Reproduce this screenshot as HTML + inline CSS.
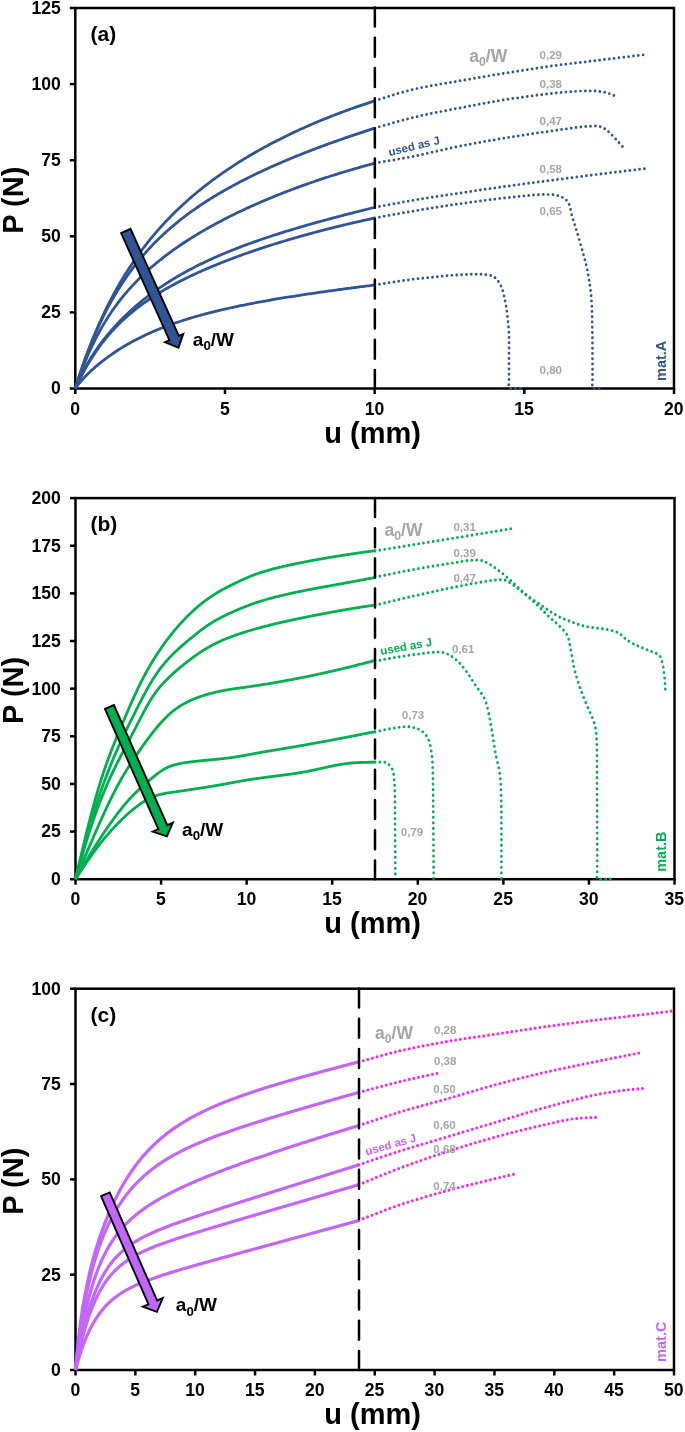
<!DOCTYPE html>
<html><head><meta charset="utf-8"><title>P-u curves</title>
<style>
html,body{margin:0;padding:0;background:#fff;}
svg{display:block;}
text{font-family:"Liberation Sans", Arial, Helvetica, sans-serif;}
.tk{font-size:17.6px;font-weight:bold;fill:#000;}
.ax{font-size:29px;font-weight:bold;fill:#000;}
.pl{font-size:21px;font-weight:bold;fill:#000;}
.v{font-size:11.5px;font-weight:bold;fill:#a6a6a6;}
</style></head><body>
<svg width="685" height="1432" viewBox="0 0 685 1432">
<rect width="685" height="1432" fill="#fff"/>
<rect x="75.3" y="8" width="598.7" height="380.5" fill="none" stroke="#000" stroke-width="2.5"/>
<line x1="75.3" y1="388.5" x2="75.3" y2="394" stroke="#000" stroke-width="2.5"/>
<text x="75.1" y="415" text-anchor="middle" class="tk">0</text>
<line x1="224.98" y1="388.5" x2="224.98" y2="394" stroke="#000" stroke-width="2.5"/>
<text x="224.78" y="415" text-anchor="middle" class="tk">5</text>
<line x1="374.65" y1="388.5" x2="374.65" y2="394" stroke="#000" stroke-width="2.5"/>
<text x="374.45" y="415" text-anchor="middle" class="tk">10</text>
<line x1="524.32" y1="388.5" x2="524.32" y2="394" stroke="#000" stroke-width="2.5"/>
<text x="524.12" y="415" text-anchor="middle" class="tk">15</text>
<line x1="674" y1="388.5" x2="674" y2="394" stroke="#000" stroke-width="2.5"/>
<text x="673.8" y="415" text-anchor="middle" class="tk">20</text>
<line x1="69.8" y1="388.5" x2="75.3" y2="388.5" stroke="#000" stroke-width="2.5"/>
<text x="60.8" y="394.4" text-anchor="end" class="tk">0</text>
<line x1="69.8" y1="312.4" x2="75.3" y2="312.4" stroke="#000" stroke-width="2.5"/>
<text x="60.8" y="318.3" text-anchor="end" class="tk">25</text>
<line x1="69.8" y1="236.3" x2="75.3" y2="236.3" stroke="#000" stroke-width="2.5"/>
<text x="60.8" y="242.2" text-anchor="end" class="tk">50</text>
<line x1="69.8" y1="160.2" x2="75.3" y2="160.2" stroke="#000" stroke-width="2.5"/>
<text x="60.8" y="166.1" text-anchor="end" class="tk">75</text>
<line x1="69.8" y1="84.1" x2="75.3" y2="84.1" stroke="#000" stroke-width="2.5"/>
<text x="60.8" y="90" text-anchor="end" class="tk">100</text>
<line x1="69.8" y1="8" x2="75.3" y2="8" stroke="#000" stroke-width="2.5"/>
<text x="60.8" y="13.9" text-anchor="end" class="tk">125</text>
<text transform="translate(23.1 200.2) rotate(-90)" text-anchor="middle" class="ax">P (N)</text>
<text x="372.6" y="442.6" text-anchor="middle" class="ax">u (mm)</text>
<text x="90.5" y="40.8" class="pl">(a)</text>
<path d="M75.3 388.5 L76.8 383.67 L78.31 378.96 L79.81 374.36 L81.32 369.88 L82.82 365.5 L84.33 361.22 L85.83 357.04 L87.33 352.96 L88.84 348.97 L90.34 345.07 L91.85 341.26 L93.35 337.53 L94.86 333.89 L96.36 330.32 L97.86 326.83 L99.37 323.42 L100.87 320.08 L102.38 316.81 L103.88 313.6 L105.39 310.46 L106.89 307.39 L108.39 304.37 L109.9 301.42 L111.4 298.52 L112.91 295.68 L114.41 292.9 L115.92 290.17 L117.42 287.49 L118.92 284.85 L120.43 282.27 L121.93 279.74 L123.44 277.25 L124.94 274.8 L126.45 272.4 L127.95 270.04 L129.45 267.72 L130.96 265.44 L132.46 263.2 L133.97 260.99 L135.47 258.83 L136.98 256.69 L138.48 254.6 L139.98 252.53 L141.49 250.5 L142.99 248.5 L144.5 246.53 L146 244.59 L147.51 242.68 L149.01 240.8 L150.51 238.95 L152.02 237.12 L153.52 235.33 L155.03 233.55 L156.53 231.8 L158.03 230.08 L159.54 228.38 L161.04 226.7 L162.55 225.05 L164.05 223.42 L165.56 221.81 L167.06 220.22 L168.56 218.66 L170.07 217.11 L171.57 215.58 L173.08 214.07 L174.58 212.58 L176.09 211.11 L177.59 209.66 L179.09 208.23 L180.6 206.81 L182.1 205.41 L183.61 204.03 L185.11 202.66 L186.62 201.31 L188.12 199.97 L189.62 198.65 L191.13 197.35 L192.63 196.05 L194.14 194.78 L195.64 193.51 L197.15 192.27 L198.65 191.03 L200.15 189.81 L201.66 188.6 L203.16 187.4 L204.67 186.22 L206.17 185.05 L207.68 183.89 L209.18 182.74 L210.68 181.6 L212.19 180.48 L213.69 179.37 L215.2 178.26 L216.7 177.17 L218.21 176.09 L219.71 175.02 L221.21 173.96 L222.72 172.91 L224.22 171.87 L225.73 170.84 L227.23 169.82 L228.74 168.81 L230.24 167.81 L231.74 166.81 L233.25 165.83 L234.75 164.85 L236.26 163.89 L237.76 162.93 L239.27 161.98 L240.77 161.04 L242.27 160.11 L243.78 159.18 L245.28 158.27 L246.79 157.36 L248.29 156.46 L249.8 155.56 L251.3 154.68 L252.8 153.8 L254.31 152.93 L255.81 152.07 L257.32 151.21 L258.82 150.36 L260.33 149.52 L261.83 148.68 L263.33 147.85 L264.84 147.03 L266.34 146.21 L267.85 145.41 L269.35 144.6 L270.86 143.81 L272.36 143.02 L273.86 142.23 L275.37 141.45 L276.87 140.68 L278.38 139.92 L279.88 139.16 L281.39 138.4 L282.89 137.66 L284.39 136.91 L285.9 136.18 L287.4 135.44 L288.91 134.72 L290.41 134 L291.92 133.28 L293.42 132.57 L294.92 131.87 L296.43 131.17 L297.93 130.48 L299.44 129.79 L300.94 129.1 L302.44 128.42 L303.95 127.75 L305.45 127.08 L306.96 126.42 L308.46 125.76 L309.97 125.1 L311.47 124.45 L312.97 123.81 L314.48 123.16 L315.98 122.53 L317.49 121.9 L318.99 121.27 L320.5 120.65 L322 120.03 L323.5 119.41 L325.01 118.8 L326.51 118.2 L328.02 117.59 L329.52 117 L331.03 116.4 L332.53 115.81 L334.03 115.23 L335.54 114.65 L337.04 114.07 L338.55 113.5 L340.05 112.93 L341.56 112.36 L343.06 111.8 L344.56 111.24 L346.07 110.69 L347.57 110.14 L349.08 109.59 L350.58 109.05 L352.09 108.51 L353.59 107.97 L355.09 107.44 L356.6 106.91 L358.1 106.39 L359.61 105.87 L361.11 105.35 L362.62 104.83 L364.12 104.32 L365.62 103.81 L367.13 103.31 L368.63 102.81 L370.14 102.31 L371.64 101.81 L373.15 101.32 L374.65 100.83" fill="none" stroke="#2f5597" stroke-width="2.8" stroke-linecap="butt" stroke-linejoin="round"/>
<path d="M75.3 388.5 L76.8 383.68 L78.31 378.98 L79.81 374.42 L81.32 369.97 L82.82 365.64 L84.33 361.42 L85.83 357.31 L87.33 353.31 L88.84 349.41 L90.34 345.61 L91.85 341.9 L93.35 338.29 L94.86 334.76 L96.36 331.32 L97.86 327.97 L99.37 324.69 L100.87 321.5 L102.38 318.38 L103.88 315.33 L105.39 312.36 L106.89 309.45 L108.39 306.61 L109.9 303.83 L111.4 301.12 L112.91 298.47 L114.41 295.87 L115.92 293.34 L117.42 290.85 L118.92 288.42 L120.43 286.05 L121.93 283.72 L123.44 281.44 L124.94 279.2 L126.45 277.02 L127.95 274.87 L129.45 272.77 L130.96 270.72 L132.46 268.7 L133.97 266.72 L135.47 264.78 L136.98 262.87 L138.48 261 L139.98 259.17 L141.49 257.37 L142.99 255.6 L144.5 253.86 L146 252.15 L147.51 250.48 L149.01 248.83 L150.51 247.21 L152.02 245.62 L153.52 244.06 L155.03 242.52 L156.53 241 L158.03 239.51 L159.54 238.05 L161.04 236.6 L162.55 235.18 L164.05 233.78 L165.56 232.41 L167.06 231.05 L168.56 229.71 L170.07 228.4 L171.57 227.1 L173.08 225.82 L174.58 224.56 L176.09 223.31 L177.59 222.09 L179.09 220.88 L180.6 219.68 L182.1 218.5 L183.61 217.34 L185.11 216.19 L186.62 215.06 L188.12 213.94 L189.62 212.84 L191.13 211.74 L192.63 210.67 L194.14 209.6 L195.64 208.55 L197.15 207.51 L198.65 206.48 L200.15 205.46 L201.66 204.46 L203.16 203.46 L204.67 202.48 L206.17 201.51 L207.68 200.54 L209.18 199.59 L210.68 198.65 L212.19 197.72 L213.69 196.79 L215.2 195.88 L216.7 194.97 L218.21 194.08 L219.71 193.19 L221.21 192.31 L222.72 191.44 L224.22 190.58 L225.73 189.72 L227.23 188.88 L228.74 188.04 L230.24 187.2 L231.74 186.38 L233.25 185.56 L234.75 184.75 L236.26 183.95 L237.76 183.15 L239.27 182.36 L240.77 181.58 L242.27 180.8 L243.78 180.03 L245.28 179.26 L246.79 178.5 L248.29 177.75 L249.8 177 L251.3 176.26 L252.8 175.52 L254.31 174.79 L255.81 174.06 L257.32 173.34 L258.82 172.63 L260.33 171.92 L261.83 171.21 L263.33 170.51 L264.84 169.81 L266.34 169.12 L267.85 168.43 L269.35 167.75 L270.86 167.07 L272.36 166.4 L273.86 165.73 L275.37 165.07 L276.87 164.41 L278.38 163.75 L279.88 163.1 L281.39 162.45 L282.89 161.81 L284.39 161.16 L285.9 160.53 L287.4 159.89 L288.91 159.27 L290.41 158.64 L291.92 158.02 L293.42 157.4 L294.92 156.78 L296.43 156.17 L297.93 155.56 L299.44 154.96 L300.94 154.36 L302.44 153.76 L303.95 153.16 L305.45 152.57 L306.96 151.98 L308.46 151.4 L309.97 150.82 L311.47 150.24 L312.97 149.66 L314.48 149.09 L315.98 148.52 L317.49 147.95 L318.99 147.38 L320.5 146.82 L322 146.26 L323.5 145.7 L325.01 145.15 L326.51 144.6 L328.02 144.05 L329.52 143.5 L331.03 142.96 L332.53 142.42 L334.03 141.88 L335.54 141.35 L337.04 140.81 L338.55 140.28 L340.05 139.75 L341.56 139.23 L343.06 138.7 L344.56 138.18 L346.07 137.66 L347.57 137.15 L349.08 136.63 L350.58 136.12 L352.09 135.61 L353.59 135.1 L355.09 134.6 L356.6 134.09 L358.1 133.59 L359.61 133.09 L361.11 132.6 L362.62 132.1 L364.12 131.61 L365.62 131.12 L367.13 130.63 L368.63 130.14 L370.14 129.66 L371.64 129.18 L373.15 128.69 L374.65 128.22" fill="none" stroke="#2f5597" stroke-width="2.8" stroke-linecap="butt" stroke-linejoin="round"/>
<path d="M75.3 388.5 L76.8 383.98 L78.31 379.63 L79.81 375.42 L81.32 371.36 L82.82 367.44 L84.33 363.64 L85.83 359.98 L87.33 356.43 L88.84 352.99 L90.34 349.67 L91.85 346.45 L93.35 343.32 L94.86 340.29 L96.36 337.35 L97.86 334.49 L99.37 331.72 L100.87 329.02 L102.38 326.4 L103.88 323.85 L105.39 321.37 L106.89 318.95 L108.39 316.6 L109.9 314.31 L111.4 312.07 L112.91 309.89 L114.41 307.76 L115.92 305.68 L117.42 303.65 L118.92 301.67 L120.43 299.73 L121.93 297.83 L123.44 295.97 L124.94 294.16 L126.45 292.38 L127.95 290.64 L129.45 288.93 L130.96 287.26 L132.46 285.62 L133.97 284.01 L135.47 282.43 L136.98 280.88 L138.48 279.36 L139.98 277.86 L141.49 276.39 L142.99 274.95 L144.5 273.53 L146 272.13 L147.51 270.76 L149.01 269.4 L150.51 268.07 L152.02 266.76 L153.52 265.47 L155.03 264.2 L156.53 262.95 L158.03 261.71 L159.54 260.49 L161.04 259.29 L162.55 258.1 L164.05 256.93 L165.56 255.78 L167.06 254.64 L168.56 253.51 L170.07 252.4 L171.57 251.31 L173.08 250.22 L174.58 249.15 L176.09 248.09 L177.59 247.05 L179.09 246.01 L180.6 244.99 L182.1 243.98 L183.61 242.98 L185.11 241.99 L186.62 241.01 L188.12 240.04 L189.62 239.08 L191.13 238.13 L192.63 237.19 L194.14 236.26 L195.64 235.34 L197.15 234.43 L198.65 233.52 L200.15 232.63 L201.66 231.74 L203.16 230.86 L204.67 229.99 L206.17 229.13 L207.68 228.27 L209.18 227.42 L210.68 226.58 L212.19 225.75 L213.69 224.92 L215.2 224.1 L216.7 223.29 L218.21 222.49 L219.71 221.69 L221.21 220.9 L222.72 220.11 L224.22 219.33 L225.73 218.56 L227.23 217.79 L228.74 217.03 L230.24 216.27 L231.74 215.52 L233.25 214.78 L234.75 214.04 L236.26 213.31 L237.76 212.58 L239.27 211.86 L240.77 211.15 L242.27 210.44 L243.78 209.73 L245.28 209.03 L246.79 208.33 L248.29 207.64 L249.8 206.96 L251.3 206.28 L252.8 205.6 L254.31 204.93 L255.81 204.26 L257.32 203.6 L258.82 202.94 L260.33 202.29 L261.83 201.64 L263.33 201 L264.84 200.36 L266.34 199.73 L267.85 199.09 L269.35 198.47 L270.86 197.85 L272.36 197.23 L273.86 196.61 L275.37 196 L276.87 195.4 L278.38 194.8 L279.88 194.2 L281.39 193.6 L282.89 193.01 L284.39 192.43 L285.9 191.85 L287.4 191.27 L288.91 190.69 L290.41 190.12 L291.92 189.55 L293.42 188.99 L294.92 188.43 L296.43 187.87 L297.93 187.32 L299.44 186.77 L300.94 186.22 L302.44 185.68 L303.95 185.14 L305.45 184.61 L306.96 184.07 L308.46 183.54 L309.97 183.02 L311.47 182.5 L312.97 181.98 L314.48 181.46 L315.98 180.95 L317.49 180.44 L318.99 179.93 L320.5 179.43 L322 178.93 L323.5 178.43 L325.01 177.94 L326.51 177.45 L328.02 176.96 L329.52 176.47 L331.03 175.99 L332.53 175.51 L334.03 175.04 L335.54 174.56 L337.04 174.09 L338.55 173.63 L340.05 173.16 L341.56 172.7 L343.06 172.24 L344.56 171.78 L346.07 171.33 L347.57 170.88 L349.08 170.43 L350.58 169.99 L352.09 169.54 L353.59 169.11 L355.09 168.67 L356.6 168.23 L358.1 167.8 L359.61 167.37 L361.11 166.95 L362.62 166.52 L364.12 166.1 L365.62 165.68 L367.13 165.26 L368.63 164.85 L370.14 164.44 L371.64 164.03 L373.15 163.62 L374.65 163.22" fill="none" stroke="#2f5597" stroke-width="2.8" stroke-linecap="butt" stroke-linejoin="round"/>
<path d="M75.3 388.5 L76.8 384.93 L78.31 381.54 L79.81 378.29 L81.32 375.19 L82.82 372.21 L84.33 369.35 L85.83 366.59 L87.33 363.94 L88.84 361.37 L90.34 358.89 L91.85 356.48 L93.35 354.15 L94.86 351.88 L96.36 349.68 L97.86 347.53 L99.37 345.44 L100.87 343.41 L102.38 341.42 L103.88 339.47 L105.39 337.57 L106.89 335.72 L108.39 333.9 L109.9 332.12 L111.4 330.37 L112.91 328.66 L114.41 326.99 L115.92 325.34 L117.42 323.73 L118.92 322.15 L120.43 320.59 L121.93 319.06 L123.44 317.56 L124.94 316.09 L126.45 314.64 L127.95 313.21 L129.45 311.81 L130.96 310.43 L132.46 309.07 L133.97 307.74 L135.47 306.42 L136.98 305.13 L138.48 303.86 L139.98 302.6 L141.49 301.37 L142.99 300.15 L144.5 298.95 L146 297.77 L147.51 296.61 L149.01 295.47 L150.51 294.34 L152.02 293.22 L153.52 292.13 L155.03 291.04 L156.53 289.98 L158.03 288.93 L159.54 287.89 L161.04 286.86 L162.55 285.85 L164.05 284.86 L165.56 283.88 L167.06 282.91 L168.56 281.95 L170.07 281 L171.57 280.07 L173.08 279.15 L174.58 278.24 L176.09 277.34 L177.59 276.46 L179.09 275.58 L180.6 274.72 L182.1 273.86 L183.61 273.02 L185.11 272.19 L186.62 271.36 L188.12 270.55 L189.62 269.74 L191.13 268.95 L192.63 268.16 L194.14 267.38 L195.64 266.61 L197.15 265.85 L198.65 265.1 L200.15 264.36 L201.66 263.62 L203.16 262.89 L204.67 262.17 L206.17 261.46 L207.68 260.76 L209.18 260.06 L210.68 259.37 L212.19 258.68 L213.69 258.01 L215.2 257.34 L216.7 256.67 L218.21 256.02 L219.71 255.37 L221.21 254.72 L222.72 254.08 L224.22 253.45 L225.73 252.82 L227.23 252.2 L228.74 251.59 L230.24 250.98 L231.74 250.37 L233.25 249.77 L234.75 249.18 L236.26 248.59 L237.76 248.01 L239.27 247.43 L240.77 246.85 L242.27 246.28 L243.78 245.72 L245.28 245.16 L246.79 244.6 L248.29 244.05 L249.8 243.5 L251.3 242.96 L252.8 242.42 L254.31 241.89 L255.81 241.35 L257.32 240.83 L258.82 240.3 L260.33 239.78 L261.83 239.27 L263.33 238.76 L264.84 238.25 L266.34 237.74 L267.85 237.24 L269.35 236.74 L270.86 236.25 L272.36 235.75 L273.86 235.26 L275.37 234.78 L276.87 234.3 L278.38 233.82 L279.88 233.34 L281.39 232.86 L282.89 232.39 L284.39 231.92 L285.9 231.46 L287.4 231 L288.91 230.54 L290.41 230.08 L291.92 229.62 L293.42 229.17 L294.92 228.72 L296.43 228.27 L297.93 227.82 L299.44 227.38 L300.94 226.94 L302.44 226.5 L303.95 226.06 L305.45 225.63 L306.96 225.2 L308.46 224.76 L309.97 224.34 L311.47 223.91 L312.97 223.48 L314.48 223.06 L315.98 222.64 L317.49 222.22 L318.99 221.8 L320.5 221.39 L322 220.98 L323.5 220.56 L325.01 220.15 L326.51 219.74 L328.02 219.34 L329.52 218.93 L331.03 218.53 L332.53 218.13 L334.03 217.72 L335.54 217.33 L337.04 216.93 L338.55 216.53 L340.05 216.14 L341.56 215.74 L343.06 215.35 L344.56 214.96 L346.07 214.57 L347.57 214.18 L349.08 213.79 L350.58 213.41 L352.09 213.02 L353.59 212.64 L355.09 212.26 L356.6 211.88 L358.1 211.5 L359.61 211.12 L361.11 210.74 L362.62 210.36 L364.12 209.99 L365.62 209.61 L367.13 209.24 L368.63 208.87 L370.14 208.5 L371.64 208.13 L373.15 207.76 L374.65 207.39" fill="none" stroke="#2f5597" stroke-width="2.8" stroke-linecap="butt" stroke-linejoin="round"/>
<path d="M75.3 388.5 L76.8 385.25 L78.31 382.11 L79.81 379.06 L81.32 376.11 L82.82 373.25 L84.33 370.47 L85.83 367.78 L87.33 365.17 L88.84 362.63 L90.34 360.16 L91.85 357.77 L93.35 355.45 L94.86 353.18 L96.36 350.99 L97.86 348.85 L99.37 346.77 L100.87 344.74 L102.38 342.77 L103.88 340.84 L105.39 338.97 L106.89 337.14 L108.39 335.36 L109.9 333.63 L111.4 331.93 L112.91 330.28 L114.41 328.66 L115.92 327.08 L117.42 325.54 L118.92 324.03 L120.43 322.56 L121.93 321.11 L123.44 319.7 L124.94 318.32 L126.45 316.97 L127.95 315.64 L129.45 314.34 L130.96 313.07 L132.46 311.82 L133.97 310.6 L135.47 309.39 L136.98 308.21 L138.48 307.06 L139.98 305.92 L141.49 304.8 L142.99 303.7 L144.5 302.62 L146 301.56 L147.51 300.52 L149.01 299.49 L150.51 298.48 L152.02 297.49 L153.52 296.51 L155.03 295.54 L156.53 294.59 L158.03 293.65 L159.54 292.73 L161.04 291.82 L162.55 290.92 L164.05 290.04 L165.56 289.16 L167.06 288.3 L168.56 287.45 L170.07 286.61 L171.57 285.78 L173.08 284.96 L174.58 284.15 L176.09 283.35 L177.59 282.56 L179.09 281.78 L180.6 281 L182.1 280.24 L183.61 279.48 L185.11 278.74 L186.62 278 L188.12 277.27 L189.62 276.54 L191.13 275.82 L192.63 275.11 L194.14 274.41 L195.64 273.72 L197.15 273.03 L198.65 272.34 L200.15 271.67 L201.66 271 L203.16 270.33 L204.67 269.67 L206.17 269.02 L207.68 268.37 L209.18 267.73 L210.68 267.1 L212.19 266.47 L213.69 265.84 L215.2 265.22 L216.7 264.61 L218.21 264 L219.71 263.39 L221.21 262.79 L222.72 262.2 L224.22 261.61 L225.73 261.02 L227.23 260.44 L228.74 259.86 L230.24 259.29 L231.74 258.72 L233.25 258.15 L234.75 257.59 L236.26 257.03 L237.76 256.48 L239.27 255.93 L240.77 255.38 L242.27 254.84 L243.78 254.3 L245.28 253.77 L246.79 253.24 L248.29 252.71 L249.8 252.19 L251.3 251.67 L252.8 251.15 L254.31 250.64 L255.81 250.13 L257.32 249.62 L258.82 249.12 L260.33 248.62 L261.83 248.12 L263.33 247.63 L264.84 247.14 L266.34 246.65 L267.85 246.16 L269.35 245.68 L270.86 245.2 L272.36 244.73 L273.86 244.25 L275.37 243.78 L276.87 243.32 L278.38 242.85 L279.88 242.39 L281.39 241.93 L282.89 241.48 L284.39 241.02 L285.9 240.57 L287.4 240.12 L288.91 239.68 L290.41 239.23 L291.92 238.79 L293.42 238.36 L294.92 237.92 L296.43 237.49 L297.93 237.06 L299.44 236.63 L300.94 236.21 L302.44 235.78 L303.95 235.36 L305.45 234.94 L306.96 234.53 L308.46 234.12 L309.97 233.7 L311.47 233.3 L312.97 232.89 L314.48 232.49 L315.98 232.08 L317.49 231.68 L318.99 231.29 L320.5 230.89 L322 230.5 L323.5 230.11 L325.01 229.72 L326.51 229.33 L328.02 228.95 L329.52 228.57 L331.03 228.19 L332.53 227.81 L334.03 227.43 L335.54 227.06 L337.04 226.69 L338.55 226.32 L340.05 225.95 L341.56 225.59 L343.06 225.22 L344.56 224.86 L346.07 224.5 L347.57 224.14 L349.08 223.79 L350.58 223.43 L352.09 223.08 L353.59 222.73 L355.09 222.38 L356.6 222.04 L358.1 221.69 L359.61 221.35 L361.11 221.01 L362.62 220.67 L364.12 220.34 L365.62 220 L367.13 219.67 L368.63 219.34 L370.14 219.01 L371.64 218.68 L373.15 218.35 L374.65 218.03" fill="none" stroke="#2f5597" stroke-width="2.8" stroke-linecap="butt" stroke-linejoin="round"/>
<path d="M75.3 388.5 L76.8 386.4 L78.31 384.43 L79.81 382.56 L81.32 380.8 L82.82 379.1 L84.33 377.48 L85.83 375.91 L87.33 374.4 L88.84 372.93 L90.34 371.5 L91.85 370.1 L93.35 368.74 L94.86 367.42 L96.36 366.12 L97.86 364.85 L99.37 363.61 L100.87 362.4 L102.38 361.21 L103.88 360.04 L105.39 358.89 L106.89 357.77 L108.39 356.67 L109.9 355.59 L111.4 354.53 L112.91 353.49 L114.41 352.47 L115.92 351.47 L117.42 350.48 L118.92 349.52 L120.43 348.57 L121.93 347.64 L123.44 346.72 L124.94 345.82 L126.45 344.94 L127.95 344.07 L129.45 343.22 L130.96 342.38 L132.46 341.56 L133.97 340.75 L135.47 339.96 L136.98 339.18 L138.48 338.41 L139.98 337.65 L141.49 336.91 L142.99 336.18 L144.5 335.46 L146 334.75 L147.51 334.06 L149.01 333.37 L150.51 332.7 L152.02 332.04 L153.52 331.39 L155.03 330.75 L156.53 330.11 L158.03 329.49 L159.54 328.88 L161.04 328.28 L162.55 327.69 L164.05 327.1 L165.56 326.53 L167.06 325.96 L168.56 325.4 L170.07 324.85 L171.57 324.31 L173.08 323.77 L174.58 323.25 L176.09 322.73 L177.59 322.22 L179.09 321.71 L180.6 321.22 L182.1 320.73 L183.61 320.24 L185.11 319.76 L186.62 319.29 L188.12 318.83 L189.62 318.37 L191.13 317.92 L192.63 317.47 L194.14 317.03 L195.64 316.6 L197.15 316.17 L198.65 315.75 L200.15 315.33 L201.66 314.91 L203.16 314.51 L204.67 314.1 L206.17 313.7 L207.68 313.31 L209.18 312.92 L210.68 312.54 L212.19 312.16 L213.69 311.78 L215.2 311.41 L216.7 311.04 L218.21 310.68 L219.71 310.32 L221.21 309.97 L222.72 309.62 L224.22 309.27 L225.73 308.93 L227.23 308.59 L228.74 308.25 L230.24 307.92 L231.74 307.59 L233.25 307.26 L234.75 306.94 L236.26 306.62 L237.76 306.3 L239.27 305.99 L240.77 305.68 L242.27 305.37 L243.78 305.06 L245.28 304.76 L246.79 304.46 L248.29 304.16 L249.8 303.87 L251.3 303.58 L252.8 303.29 L254.31 303 L255.81 302.72 L257.32 302.44 L258.82 302.16 L260.33 301.88 L261.83 301.61 L263.33 301.33 L264.84 301.06 L266.34 300.79 L267.85 300.53 L269.35 300.26 L270.86 300 L272.36 299.74 L273.86 299.48 L275.37 299.22 L276.87 298.97 L278.38 298.72 L279.88 298.47 L281.39 298.22 L282.89 297.97 L284.39 297.72 L285.9 297.48 L287.4 297.23 L288.91 296.99 L290.41 296.75 L291.92 296.51 L293.42 296.28 L294.92 296.04 L296.43 295.81 L297.93 295.57 L299.44 295.34 L300.94 295.11 L302.44 294.88 L303.95 294.65 L305.45 294.43 L306.96 294.2 L308.46 293.98 L309.97 293.75 L311.47 293.53 L312.97 293.31 L314.48 293.09 L315.98 292.87 L317.49 292.66 L318.99 292.44 L320.5 292.22 L322 292.01 L323.5 291.8 L325.01 291.58 L326.51 291.37 L328.02 291.16 L329.52 290.95 L331.03 290.74 L332.53 290.54 L334.03 290.33 L335.54 290.12 L337.04 289.92 L338.55 289.71 L340.05 289.51 L341.56 289.31 L343.06 289.1 L344.56 288.9 L346.07 288.7 L347.57 288.5 L349.08 288.3 L350.58 288.1 L352.09 287.91 L353.59 287.71 L355.09 287.51 L356.6 287.32 L358.1 287.12 L359.61 286.93 L361.11 286.73 L362.62 286.54 L364.12 286.34 L365.62 286.15 L367.13 285.96 L368.63 285.77 L370.14 285.58 L371.64 285.39 L373.15 285.2 L374.65 285.01" fill="none" stroke="#2f5597" stroke-width="2.8" stroke-linecap="butt" stroke-linejoin="round"/>
<path d="M374.65 93.333 L377.72 92.476 L380.77 91.604 L383.8 90.722 L386.82 89.836 L389.84 88.949 L392.87 88.067 L395.92 87.195 L398.99 86.338 L402.1 85.499 L405.24 84.685 L408.44 83.9 L411.7 83.148 L415.39 82.355 L419.16 81.6 L422.98 80.877 L426.86 80.184 L430.78 79.514 L434.73 78.863 L438.7 78.226 L442.68 77.599 L446.67 76.977 L450.64 76.355 L454.58 75.728 L458.5 75.093 L462.38 74.456 L466.25 73.825 L470.12 73.199 L473.99 72.577 L477.87 71.961 L481.74 71.349 L485.61 70.742 L489.48 70.14 L493.36 69.543 L497.23 68.95 L501.11 68.362 L505 67.778 L508.91 67.194 L512.82 66.612 L516.73 66.031 L520.65 65.455 L524.57 64.883 L528.49 64.317 L532.41 63.758 L536.33 63.207 L540.25 62.666 L544.17 62.136 L548.09 61.617 L552 61.111 L555.89 60.624 L559.77 60.154 L563.64 59.698 L567.52 59.254 L571.4 58.818 L575.27 58.39 L579.15 57.967 L583.03 57.545 L586.91 57.123 L590.8 56.699 L594.7 56.27 L598.6 55.833 L602.56 55.387 L606.52 54.94 L610.49 54.493 L614.46 54.046 L618.44 53.598 L622.42 53.15 L626.4 52.702 L630.38 52.254 L634.36 51.806 L638.34 51.358 L642.32 50.911 L646.3 50.463" transform="scale(1 1.08)" fill="none" stroke="#2f5597" stroke-width="2.75" stroke-linecap="round" stroke-dasharray="0 4.86" stroke-linejoin="round"/>
<path d="M374.65 118.704 L377.72 117.904 L380.77 117.098 L383.8 116.287 L386.83 115.473 L389.85 114.659 L392.88 113.848 L395.93 113.041 L399 112.242 L402.11 111.452 L405.26 110.675 L408.45 109.912 L411.7 109.167 L415.4 108.354 L419.17 107.556 L422.99 106.772 L426.87 106.001 L430.79 105.242 L434.74 104.494 L438.71 103.757 L442.69 103.028 L446.67 102.308 L450.63 101.595 L454.58 100.887 L458.5 100.185 L462.37 99.491 L466.25 98.8 L470.12 98.114 L473.99 97.435 L477.86 96.764 L481.73 96.102 L485.6 95.451 L489.47 94.813 L493.35 94.188 L497.23 93.577 L501.11 92.984 L505 92.407 L508.93 91.842 L512.91 91.283 L516.92 90.733 L520.95 90.195 L524.98 89.669 L529 89.16 L533 88.669 L536.94 88.199 L540.83 87.752 L544.65 87.331 L548.38 86.937 L552 86.574 L554.95 86.288 L557.88 86.01 L560.78 85.742 L563.64 85.488 L566.46 85.249 L569.24 85.029 L571.97 84.83 L574.63 84.656 L577.24 84.509 L579.77 84.392 L582.23 84.308 L584.6 84.259 L586.33 84.239 L588.02 84.225 L589.68 84.22 L591.3 84.227 L592.88 84.25 L594.43 84.291 L595.94 84.354 L597.42 84.441 L598.87 84.555 L600.28 84.7 L601.66 84.878 L603 85.093 L604.04 85.297 L605.05 85.532 L606.02 85.794 L606.97 86.078 L607.89 86.379 L608.8 86.693 L609.69 87.017 L610.58 87.344 L611.47 87.672 L612.37 87.995 L613.28 88.31 L614.2 88.611" transform="scale(1 1.08)" fill="none" stroke="#2f5597" stroke-width="2.75" stroke-linecap="round" stroke-dasharray="0 4.86" stroke-linejoin="round"/>
<path d="M374.65 151.111 L377.72 150.617 L380.78 150.134 L383.82 149.658 L386.85 149.187 L389.88 148.715 L392.92 148.24 L395.97 147.757 L399.04 147.262 L402.15 146.753 L405.28 146.224 L408.47 145.671 L411.7 145.093 L415.41 144.399 L419.19 143.663 L423.03 142.891 L426.91 142.093 L430.82 141.275 L434.77 140.445 L438.73 139.611 L442.7 138.781 L446.67 137.961 L450.64 137.161 L454.58 136.387 L458.5 135.648 L462.37 134.94 L466.24 134.245 L470.12 133.563 L473.99 132.892 L477.86 132.232 L481.73 131.583 L485.6 130.944 L489.47 130.313 L493.35 129.692 L497.23 129.078 L501.11 128.471 L505 127.87 L508.92 127.274 L512.87 126.684 L516.84 126.1 L520.82 125.525 L524.81 124.957 L528.78 124.4 L532.75 123.852 L536.68 123.315 L540.59 122.791 L544.45 122.279 L548.25 121.78 L552 121.296 L555.37 120.853 L558.81 120.385 L562.28 119.905 L565.75 119.423 L569.19 118.951 L572.58 118.5 L575.88 118.08 L579.06 117.704 L582.09 117.381 L584.94 117.125 L587.59 116.944 L590 116.852 L591.24 116.824 L592.42 116.796 L593.53 116.772 L594.59 116.759 L595.61 116.764 L596.58 116.791 L597.52 116.848 L598.44 116.939 L599.34 117.072 L600.23 117.252 L601.11 117.485 L602 117.778 L602.86 118.129 L603.7 118.537 L604.5 118.996 L605.28 119.5 L606.04 120.046 L606.79 120.626 L607.53 121.235 L608.27 121.869 L609.01 122.522 L609.76 123.187 L610.52 123.861 L611.3 124.537 L612.26 125.379 L613.22 126.27 L614.19 127.201 L615.16 128.166 L616.14 129.158 L617.12 130.171 L618.1 131.198 L619.08 132.231 L620.06 133.264 L621.04 134.291 L622.02 135.304 L623 136.296" transform="scale(1 1.08)" fill="none" stroke="#2f5597" stroke-width="2.75" stroke-linecap="round" stroke-dasharray="0 4.86" stroke-linejoin="round"/>
<path d="M374.65 192.037 L377.72 191.512 L380.77 190.985 L383.81 190.457 L386.84 189.929 L389.86 189.401 L392.9 188.873 L395.95 188.346 L399.02 187.821 L402.13 187.297 L405.27 186.775 L408.46 186.257 L411.7 185.741 L415.41 185.165 L419.18 184.591 L423.01 184.018 L426.89 183.448 L430.81 182.88 L434.76 182.314 L438.73 181.751 L442.7 181.19 L446.68 180.633 L450.64 180.079 L454.59 179.528 L458.5 178.981 L462.38 178.44 L466.25 177.9 L470.13 177.363 L474 176.829 L477.87 176.298 L481.74 175.77 L485.61 175.246 L489.48 174.725 L493.36 174.208 L497.23 173.696 L501.12 173.188 L505 172.685 L508.91 172.186 L512.82 171.693 L516.73 171.205 L520.65 170.722 L524.57 170.244 L528.49 169.768 L532.42 169.295 L536.34 168.824 L540.26 168.355 L544.17 167.885 L548.09 167.415 L552 166.944 L555.89 166.475 L559.78 166.005 L563.67 165.536 L567.55 165.068 L571.43 164.6 L575.32 164.134 L579.2 163.67 L583.08 163.208 L586.96 162.749 L590.84 162.292 L594.72 161.839 L598.6 161.389 L602.47 160.944 L606.34 160.504 L610.21 160.068 L614.07 159.634 L617.94 159.203 L621.8 158.774 L625.67 158.346 L629.54 157.919 L633.4 157.492 L637.27 157.064 L641.13 156.635 L645 156.204" transform="scale(1 1.08)" fill="none" stroke="#2f5597" stroke-width="2.75" stroke-linecap="round" stroke-dasharray="0 4.86" stroke-linejoin="round"/>
<path d="M374.65 201.852 L377.72 201.343 L380.77 200.833 L383.81 200.324 L386.84 199.815 L389.87 199.305 L392.9 198.796 L395.95 198.287 L399.02 197.777 L402.13 197.268 L405.27 196.759 L408.46 196.25 L411.7 195.741 L415.41 195.166 L419.18 194.584 L423.01 193.998 L426.89 193.409 L430.81 192.821 L434.76 192.235 L438.72 191.653 L442.7 191.079 L446.67 190.512 L450.64 189.957 L454.58 189.415 L458.5 188.889 L462.39 188.375 L466.31 187.865 L470.24 187.361 L474.18 186.864 L478.12 186.376 L482.06 185.898 L485.97 185.432 L489.86 184.979 L493.72 184.541 L497.53 184.12 L501.29 183.717 L505 183.333 L508.32 182.991 L511.67 182.637 L515.03 182.28 L518.39 181.927 L521.72 181.587 L525 181.266 L528.22 180.972 L531.35 180.714 L534.37 180.499 L537.27 180.333 L540.02 180.226 L542.6 180.185 L544.22 180.181 L545.79 180.178 L547.32 180.184 L548.79 180.203 L550.22 180.24 L551.61 180.301 L552.95 180.392 L554.24 180.518 L555.5 180.685 L556.71 180.897 L557.87 181.161 L559 181.481 L559.86 181.763 L560.69 182.058 L561.49 182.372 L562.27 182.707 L563.02 183.066 L563.74 183.454 L564.44 183.874 L565.11 184.33 L565.75 184.824 L566.36 185.36 L566.95 185.943 L567.5 186.574 L568.15 187.47 L568.71 188.462 L569.2 189.541 L569.63 190.695 L570.02 191.912 L570.37 193.183 L570.7 194.495 L571.03 195.838 L571.36 197.2 L571.7 198.572 L572.08 199.941 L572.5 201.296 L573.05 202.942 L573.61 204.628 L574.18 206.349 L574.76 208.102 L575.35 209.884 L575.94 211.692 L576.54 213.521 L577.14 215.368 L577.73 217.23 L578.33 219.104 L578.92 220.985 L579.5 222.87 L580.14 224.949 L580.8 227.057 L581.46 229.19 L582.13 231.346 L582.8 233.518 L583.46 235.705 L584.11 237.901 L584.75 240.103 L585.36 242.307 L585.94 244.508 L586.49 246.704 L587 248.889 L587.47 251.034 L587.92 253.17 L588.35 255.302 L588.75 257.432 L589.13 259.564 L589.49 261.701 L589.83 263.847 L590.14 266.004 L590.44 268.176 L590.71 270.366 L590.97 272.578 L591.2 274.815 L591.42 277.254 L591.6 279.729 L591.75 282.233 L591.86 284.761 L591.96 287.307 L592.03 289.863 L592.09 292.425 L592.13 294.985 L592.17 297.538 L592.21 300.078 L592.25 302.598 L592.3 305.093 L592.35 307.495 L592.38 309.909 L592.41 312.329 L592.44 314.749 L592.45 317.162 L592.47 319.562 L592.47 321.942 L592.48 324.297 L592.49 326.62 L592.49 328.904 L592.49 331.144 L592.5 333.333 L592.51 335.188 L592.51 337.069 L592.51 338.959 L592.51 340.843 L592.51 342.704 L592.51 344.525 L592.51 346.291 L592.51 347.984 L592.5 349.588 L592.5 351.087 L592.5 352.464 L592.5 353.704 L592.49 354.308 L592.45 354.903 L592.4 355.482 L592.33 356.041 L592.27 356.577 L592.22 357.084 L592.18 357.557 L592.17 357.992 L592.19 358.384 L592.24 358.729 L592.34 359.023 L592.5 359.259 L592.62 359.371 L592.75 359.456 L592.9 359.519 L593.05 359.561 L593.22 359.588 L593.4 359.603 L593.59 359.609 L593.79 359.609 L594 359.608 L594.22 359.609 L594.46 359.615 L594.7 359.63 L595.25 359.665 L595.88 359.688 L596.57 359.701 L597.32 359.705 L598.12 359.701 L598.95 359.693 L599.8 359.681 L600.66 359.667 L601.52 359.653 L602.38 359.641 L603.2 359.633 L604 359.63" transform="scale(1 1.08)" fill="none" stroke="#2f5597" stroke-width="2.75" stroke-linecap="round" stroke-dasharray="0 4.86" stroke-linejoin="round"/>
<path d="M374.65 263.889 L377.72 263.461 L380.77 263.026 L383.81 262.587 L386.84 262.146 L389.86 261.705 L392.9 261.266 L395.95 260.832 L399.02 260.404 L402.12 259.984 L405.27 259.575 L408.46 259.178 L411.7 258.796 L415.46 258.374 L419.36 257.949 L423.38 257.525 L427.48 257.107 L431.62 256.699 L435.76 256.307 L439.86 255.935 L443.88 255.587 L447.8 255.269 L451.57 254.985 L455.15 254.739 L458.5 254.537 L460.75 254.412 L462.94 254.292 L465.08 254.18 L467.16 254.079 L469.18 253.993 L471.15 253.924 L473.07 253.877 L474.93 253.854 L476.73 253.859 L478.48 253.895 L480.17 253.966 L481.8 254.074 L482.93 254.16 L484.04 254.239 L485.12 254.319 L486.17 254.405 L487.2 254.506 L488.19 254.628 L489.15 254.778 L490.09 254.964 L490.99 255.193 L491.86 255.471 L492.7 255.805 L493.5 256.204 L494.24 256.643 L494.94 257.13 L495.61 257.662 L496.24 258.236 L496.85 258.849 L497.44 259.498 L498 260.18 L498.53 260.893 L499.05 261.632 L499.55 262.395 L500.03 263.179 L500.5 263.981 L501.05 265.02 L501.56 266.11 L502.03 267.249 L502.46 268.432 L502.86 269.658 L503.24 270.922 L503.59 272.223 L503.93 273.558 L504.25 274.922 L504.57 276.314 L504.88 277.73 L505.2 279.167 L505.6 281.071 L505.99 283.057 L506.35 285.114 L506.7 287.231 L507.02 289.398 L507.33 291.604 L507.61 293.84 L507.87 296.094 L508.11 298.357 L508.33 300.618 L508.53 302.867 L508.7 305.093 L508.85 307.415 L508.95 309.777 L509.02 312.168 L509.06 314.579 L509.08 317 L509.08 319.419 L509.07 321.826 L509.05 324.212 L509.03 326.566 L509.01 328.878 L509 331.137 L509 333.333 L509.01 335.188 L509.01 337.068 L509.02 338.959 L509.02 340.843 L509.02 342.704 L509.01 344.525 L509.01 346.291 L509.01 347.984 L509.01 349.588 L509 351.087 L509 352.464 L509 353.704 L508.99 354.308 L508.95 354.903 L508.9 355.482 L508.83 356.041 L508.77 356.577 L508.72 357.084 L508.68 357.557 L508.67 357.992 L508.69 358.384 L508.74 358.729 L508.84 359.023 L509 359.259 L509.12 359.371 L509.25 359.456 L509.39 359.518 L509.55 359.561 L509.71 359.588 L509.89 359.602 L510.08 359.608 L510.28 359.608 L510.49 359.607 L510.72 359.608 L510.95 359.614 L511.2 359.63 L511.79 359.668 L512.48 359.692 L513.24 359.706 L514.07 359.71 L514.95 359.707 L515.87 359.697 L516.82 359.685 L517.78 359.67 L518.75 359.655 L519.7 359.642 L520.62 359.633 L521.5 359.63" transform="scale(1 1.08)" fill="none" stroke="#2f5597" stroke-width="2.75" stroke-linecap="round" stroke-dasharray="0 4.86" stroke-linejoin="round"/>
<line x1="374.85" y1="7.6" x2="374.85" y2="388.5" stroke="#000" stroke-width="2.5" stroke-linecap="round" stroke-dasharray="19 11.2" stroke-dashoffset="0"/>
<polygon points="121.09,233.08 130.51,228.82 178.84,335.9 183.22,333.92 178.5,347.7 165.04,342.12 169.42,340.15" fill="#2f5597" stroke="#000" stroke-width="1.9" stroke-linejoin="miter"/>
<text x="192.8" y="345.5" font-size="19" fill="#000" font-weight="bold">a<tspan font-size="13.3" dy="4.56">0</tspan><tspan dy="-4.56">/W</tspan></text>
<text x="469.3" y="62.2" font-size="17.5" fill="#a6a6a6" font-weight="bold">a<tspan font-size="12.25" dy="4.2">0</tspan><tspan dy="-4.2">/W</tspan></text>
<text x="539.6" y="58.5" class="v">0,29</text>
<text x="539.6" y="88" class="v">0,38</text>
<text x="539.6" y="125.3" class="v">0,47</text>
<text x="539.6" y="173.2" class="v">0,58</text>
<text x="539.6" y="215" class="v">0,65</text>
<text x="539.6" y="373.9" class="v">0,80</text>
<text transform="translate(389.5 156.3) rotate(-13.9)" font-size="11.5" font-weight="bold" fill="#2f5597">used as J</text>
<text transform="translate(666 381) rotate(-90)" font-size="14.5" font-weight="bold" fill="#2f5597">mat.A</text>
<rect x="75.5" y="498.1" width="599" height="381.1" fill="none" stroke="#000" stroke-width="2.5"/>
<line x1="75.5" y1="879.2" x2="75.5" y2="884.7" stroke="#000" stroke-width="2.5"/>
<text x="75.3" y="905.2" text-anchor="middle" class="tk">0</text>
<line x1="161.07" y1="879.2" x2="161.07" y2="884.7" stroke="#000" stroke-width="2.5"/>
<text x="160.87" y="905.2" text-anchor="middle" class="tk">5</text>
<line x1="246.64" y1="879.2" x2="246.64" y2="884.7" stroke="#000" stroke-width="2.5"/>
<text x="246.44" y="905.2" text-anchor="middle" class="tk">10</text>
<line x1="332.21" y1="879.2" x2="332.21" y2="884.7" stroke="#000" stroke-width="2.5"/>
<text x="332.01" y="905.2" text-anchor="middle" class="tk">15</text>
<line x1="417.79" y1="879.2" x2="417.79" y2="884.7" stroke="#000" stroke-width="2.5"/>
<text x="417.59" y="905.2" text-anchor="middle" class="tk">20</text>
<line x1="503.36" y1="879.2" x2="503.36" y2="884.7" stroke="#000" stroke-width="2.5"/>
<text x="503.16" y="905.2" text-anchor="middle" class="tk">25</text>
<line x1="588.93" y1="879.2" x2="588.93" y2="884.7" stroke="#000" stroke-width="2.5"/>
<text x="588.73" y="905.2" text-anchor="middle" class="tk">30</text>
<line x1="674.5" y1="879.2" x2="674.5" y2="884.7" stroke="#000" stroke-width="2.5"/>
<text x="674.3" y="905.2" text-anchor="middle" class="tk">35</text>
<line x1="70" y1="879.2" x2="75.5" y2="879.2" stroke="#000" stroke-width="2.5"/>
<text x="60.8" y="885.1" text-anchor="end" class="tk">0</text>
<line x1="70" y1="831.56" x2="75.5" y2="831.56" stroke="#000" stroke-width="2.5"/>
<text x="60.8" y="837.46" text-anchor="end" class="tk">25</text>
<line x1="70" y1="783.93" x2="75.5" y2="783.93" stroke="#000" stroke-width="2.5"/>
<text x="60.8" y="789.83" text-anchor="end" class="tk">50</text>
<line x1="70" y1="736.29" x2="75.5" y2="736.29" stroke="#000" stroke-width="2.5"/>
<text x="60.8" y="742.19" text-anchor="end" class="tk">75</text>
<line x1="70" y1="688.65" x2="75.5" y2="688.65" stroke="#000" stroke-width="2.5"/>
<text x="60.8" y="694.55" text-anchor="end" class="tk">100</text>
<line x1="70" y1="641.01" x2="75.5" y2="641.01" stroke="#000" stroke-width="2.5"/>
<text x="60.8" y="646.91" text-anchor="end" class="tk">125</text>
<line x1="70" y1="593.38" x2="75.5" y2="593.38" stroke="#000" stroke-width="2.5"/>
<text x="60.8" y="599.27" text-anchor="end" class="tk">150</text>
<line x1="70" y1="545.74" x2="75.5" y2="545.74" stroke="#000" stroke-width="2.5"/>
<text x="60.8" y="551.64" text-anchor="end" class="tk">175</text>
<line x1="70" y1="498.1" x2="75.5" y2="498.1" stroke="#000" stroke-width="2.5"/>
<text x="60.8" y="504" text-anchor="end" class="tk">200</text>
<text transform="translate(23.1 690.4) rotate(-90)" text-anchor="middle" class="ax">P (N)</text>
<text x="372.6" y="933.3" text-anchor="middle" class="ax">u (mm)</text>
<text x="90.5" y="530.9" class="pl">(b)</text>
<path d="M75.5 879.2 L76.36 875.52 L77.21 871.85 L78.07 868.18 L78.92 864.51 L79.78 860.86 L80.63 857.23 L81.49 853.6 L82.35 850 L83.2 846.42 L84.06 842.86 L84.91 839.33 L85.77 835.82 L86.62 832.35 L87.48 828.91 L88.34 825.51 L89.19 822.14 L90.05 818.81 L90.9 815.52 L91.76 812.27 L92.61 809.07 L93.47 805.91 L94.33 802.8 L95.18 799.74 L96.04 796.72 L96.89 793.76 L97.75 790.84 L98.6 787.97 L99.46 785.16 L100.32 782.39 L101.17 779.67 L102.03 777.01 L102.88 774.39 L103.74 771.81 L104.59 769.29 L105.45 766.8 L106.31 764.36 L107.16 761.96 L108.02 759.6 L108.87 757.27 L109.73 754.98 L110.58 752.72 L111.44 750.49 L112.3 748.28 L113.15 746.1 L114.01 743.95 L114.86 741.81 L115.72 739.69 L116.57 737.59 L117.43 735.5 L118.29 733.43 L119.14 731.37 L120 729.32 L120.85 727.27 L121.71 725.24 L122.56 723.21 L123.42 721.19 L124.28 719.18 L125.13 717.18 L125.99 715.18 L126.84 713.19 L127.7 711.21 L128.55 709.24 L129.41 707.28 L130.27 705.32 L131.12 703.39 L131.98 701.46 L132.83 699.55 L133.69 697.65 L134.54 695.77 L135.4 693.91 L136.26 692.07 L137.11 690.25 L137.97 688.44 L138.82 686.66 L139.68 684.91 L140.53 683.17 L141.39 681.46 L142.25 679.77 L143.1 678.11 L143.96 676.47 L144.81 674.85 L145.67 673.26 L146.52 671.69 L147.38 670.15 L148.24 668.62 L149.09 667.12 L149.95 665.65 L150.8 664.19 L151.66 662.76 L152.51 661.34 L153.37 659.95 L154.23 658.57 L155.08 657.21 L155.94 655.87 L156.79 654.55 L157.65 653.24 L158.5 651.95 L159.36 650.68 L160.22 649.42 L161.07 648.18 L161.93 646.96 L162.78 645.74 L163.64 644.54 L164.49 643.36 L165.35 642.19 L166.21 641.03 L167.06 639.89 L167.92 638.76 L168.77 637.64 L169.63 636.54 L170.48 635.44 L171.34 634.37 L172.2 633.3 L173.05 632.24 L173.91 631.2 L174.76 630.17 L175.62 629.15 L176.47 628.15 L177.33 627.15 L178.19 626.17 L179.04 625.2 L179.9 624.24 L180.75 623.29 L181.61 622.35 L182.46 621.43 L183.32 620.51 L184.18 619.61 L185.03 618.72 L185.89 617.84 L186.74 616.97 L187.6 616.11 L188.45 615.26 L189.31 614.42 L190.17 613.6 L191.02 612.78 L191.88 611.98 L192.73 611.18 L193.59 610.4 L194.44 609.62 L195.3 608.86 L196.16 608.1 L197.01 607.36 L197.87 606.63 L198.72 605.91 L199.58 605.19 L200.43 604.49 L201.29 603.8 L202.15 603.12 L203 602.45 L203.86 601.79 L204.71 601.14 L205.57 600.5 L206.42 599.87 L207.28 599.25 L208.14 598.64 L208.99 598.04 L209.85 597.45 L210.7 596.87 L211.56 596.29 L212.41 595.73 L213.27 595.18 L214.13 594.63 L214.98 594.1 L215.84 593.57 L216.69 593.05 L217.55 592.54 L218.4 592.03 L219.26 591.53 L220.12 591.04 L220.97 590.55 L221.83 590.07 L222.68 589.6 L223.54 589.13 L224.39 588.67 L225.25 588.21 L226.11 587.75 L226.96 587.3 L227.82 586.86 L228.67 586.42 L229.53 585.98 L230.38 585.54 L231.24 585.11 L232.1 584.68 L232.95 584.26 L233.81 583.84 L234.66 583.42 L235.52 583 L236.37 582.59 L237.23 582.18 L238.09 581.77 L238.94 581.37 L239.8 580.97 L240.65 580.58 L241.51 580.18 L242.36 579.79 L243.22 579.41 L244.08 579.03 L244.93 578.65 L245.79 578.28 L246.64 577.91 L247.5 577.54 L248.35 577.18 L249.21 576.83 L250.07 576.48 L250.92 576.14 L251.78 575.8 L252.63 575.46 L253.49 575.13 L254.34 574.81 L255.2 574.49 L256.06 574.18 L256.91 573.87 L257.77 573.57 L258.62 573.27 L259.48 572.98 L260.33 572.69 L261.19 572.41 L262.05 572.13 L262.9 571.86 L263.76 571.59 L264.61 571.33 L265.47 571.07 L266.32 570.82 L267.18 570.57 L268.04 570.32 L268.89 570.08 L269.75 569.84 L270.6 569.61 L271.46 569.38 L272.31 569.15 L273.17 568.92 L274.03 568.7 L274.88 568.48 L275.74 568.27 L276.59 568.05 L277.45 567.84 L278.3 567.63 L279.16 567.43 L280.02 567.22 L280.87 567.02 L281.73 566.82 L282.58 566.62 L283.44 566.42 L284.29 566.23 L285.15 566.04 L286.01 565.85 L286.86 565.66 L287.72 565.47 L288.57 565.28 L289.43 565.1 L290.28 564.91 L291.14 564.73 L292 564.55 L292.85 564.36 L293.71 564.18 L294.56 564.01 L295.42 563.83 L296.27 563.65 L297.13 563.48 L297.99 563.3 L298.84 563.13 L299.7 562.95 L300.55 562.78 L301.41 562.61 L302.26 562.44 L303.12 562.27 L303.98 562.1 L304.83 561.93 L305.69 561.77 L306.54 561.6 L307.4 561.44 L308.25 561.27 L309.11 561.11 L309.97 560.95 L310.82 560.79 L311.68 560.63 L312.53 560.47 L313.39 560.31 L314.24 560.15 L315.1 559.99 L315.96 559.84 L316.81 559.68 L317.67 559.53 L318.52 559.38 L319.38 559.22 L320.23 559.07 L321.09 558.92 L321.95 558.77 L322.8 558.62 L323.66 558.47 L324.51 558.33 L325.37 558.18 L326.22 558.03 L327.08 557.89 L327.94 557.74 L328.79 557.6 L329.65 557.45 L330.5 557.31 L331.36 557.17 L332.21 557.03 L333.07 556.89 L333.93 556.75 L334.78 556.61 L335.64 556.47 L336.49 556.33 L337.35 556.19 L338.2 556.05 L339.06 555.92 L339.92 555.78 L340.77 555.65 L341.63 555.51 L342.48 555.38 L343.34 555.24 L344.19 555.11 L345.05 554.98 L345.91 554.85 L346.76 554.72 L347.62 554.58 L348.47 554.45 L349.33 554.32 L350.18 554.2 L351.04 554.07 L351.9 553.94 L352.75 553.81 L353.61 553.69 L354.46 553.56 L355.32 553.43 L356.17 553.31 L357.03 553.19 L357.89 553.06 L358.74 552.94 L359.6 552.82 L360.45 552.7 L361.31 552.57 L362.16 552.45 L363.02 552.33 L363.88 552.21 L364.73 552.09 L365.59 551.98 L366.44 551.86 L367.3 551.74 L368.15 551.62 L369.01 551.5 L369.87 551.39 L370.72 551.27 L371.58 551.16 L372.43 551.04 L373.29 550.92 L374.14 550.81 L375 550.69" fill="none" stroke="#00b050" stroke-width="2.8" stroke-linecap="butt" stroke-linejoin="round"/>
<path d="M75.5 879.2 L76.36 875.87 L77.21 872.54 L78.07 869.22 L78.92 865.91 L79.78 862.62 L80.63 859.34 L81.49 856.08 L82.35 852.84 L83.2 849.63 L84.06 846.45 L84.91 843.29 L85.77 840.17 L86.62 837.09 L87.48 834.03 L88.34 831.02 L89.19 828.04 L90.05 825.1 L90.9 822.19 L91.76 819.33 L92.61 816.5 L93.47 813.71 L94.33 810.96 L95.18 808.24 L96.04 805.57 L96.89 802.93 L97.75 800.33 L98.6 797.77 L99.46 795.24 L100.32 792.74 L101.17 790.28 L102.03 787.86 L102.88 785.46 L103.74 783.1 L104.59 780.78 L105.45 778.48 L106.31 776.21 L107.16 773.98 L108.02 771.77 L108.87 769.59 L109.73 767.43 L110.58 765.31 L111.44 763.21 L112.3 761.13 L113.15 759.08 L114.01 757.06 L114.86 755.05 L115.72 753.07 L116.57 751.11 L117.43 749.17 L118.29 747.25 L119.14 745.35 L120 743.47 L120.85 741.61 L121.71 739.76 L122.56 737.92 L123.42 736.11 L124.28 734.3 L125.13 732.51 L125.99 730.73 L126.84 728.96 L127.7 727.2 L128.55 725.45 L129.41 723.71 L130.27 721.97 L131.12 720.24 L131.98 718.52 L132.83 716.8 L133.69 715.09 L134.54 713.38 L135.4 711.67 L136.26 709.97 L137.11 708.28 L137.97 706.59 L138.82 704.91 L139.68 703.23 L140.53 701.57 L141.39 699.91 L142.25 698.27 L143.1 696.64 L143.96 695.02 L144.81 693.42 L145.67 691.83 L146.52 690.27 L147.38 688.72 L148.24 687.2 L149.09 685.7 L149.95 684.23 L150.8 682.78 L151.66 681.36 L152.51 679.97 L153.37 678.6 L154.23 677.26 L155.08 675.95 L155.94 674.67 L156.79 673.41 L157.65 672.18 L158.5 670.98 L159.36 669.81 L160.22 668.66 L161.07 667.54 L161.93 666.44 L162.78 665.36 L163.64 664.31 L164.49 663.28 L165.35 662.27 L166.21 661.28 L167.06 660.31 L167.92 659.36 L168.77 658.43 L169.63 657.51 L170.48 656.61 L171.34 655.73 L172.2 654.86 L173.05 654.01 L173.91 653.16 L174.76 652.34 L175.62 651.52 L176.47 650.72 L177.33 649.92 L178.19 649.14 L179.04 648.36 L179.9 647.6 L180.75 646.84 L181.61 646.08 L182.46 645.34 L183.32 644.6 L184.18 643.86 L185.03 643.13 L185.89 642.41 L186.74 641.69 L187.6 640.97 L188.45 640.26 L189.31 639.54 L190.17 638.84 L191.02 638.13 L191.88 637.43 L192.73 636.73 L193.59 636.04 L194.44 635.34 L195.3 634.66 L196.16 633.97 L197.01 633.29 L197.87 632.62 L198.72 631.95 L199.58 631.29 L200.43 630.63 L201.29 629.99 L202.15 629.35 L203 628.71 L203.86 628.09 L204.71 627.47 L205.57 626.86 L206.42 626.27 L207.28 625.68 L208.14 625.1 L208.99 624.53 L209.85 623.97 L210.7 623.42 L211.56 622.88 L212.41 622.35 L213.27 621.83 L214.13 621.32 L214.98 620.82 L215.84 620.33 L216.69 619.84 L217.55 619.37 L218.4 618.9 L219.26 618.44 L220.12 617.99 L220.97 617.54 L221.83 617.11 L222.68 616.67 L223.54 616.25 L224.39 615.82 L225.25 615.41 L226.11 614.99 L226.96 614.59 L227.82 614.18 L228.67 613.78 L229.53 613.39 L230.38 612.99 L231.24 612.61 L232.1 612.22 L232.95 611.84 L233.81 611.46 L234.66 611.08 L235.52 610.71 L236.37 610.33 L237.23 609.97 L238.09 609.6 L238.94 609.24 L239.8 608.88 L240.65 608.52 L241.51 608.17 L242.36 607.81 L243.22 607.47 L244.08 607.12 L244.93 606.78 L245.79 606.44 L246.64 606.11 L247.5 605.78 L248.35 605.45 L249.21 605.12 L250.07 604.8 L250.92 604.49 L251.78 604.18 L252.63 603.87 L253.49 603.57 L254.34 603.27 L255.2 602.97 L256.06 602.68 L256.91 602.39 L257.77 602.11 L258.62 601.83 L259.48 601.55 L260.33 601.28 L261.19 601.01 L262.05 600.75 L262.9 600.49 L263.76 600.23 L264.61 599.98 L265.47 599.73 L266.32 599.48 L267.18 599.24 L268.04 598.99 L268.89 598.76 L269.75 598.52 L270.6 598.29 L271.46 598.06 L272.31 597.84 L273.17 597.61 L274.03 597.39 L274.88 597.17 L275.74 596.96 L276.59 596.74 L277.45 596.53 L278.3 596.32 L279.16 596.11 L280.02 595.9 L280.87 595.7 L281.73 595.5 L282.58 595.29 L283.44 595.09 L284.29 594.9 L285.15 594.7 L286.01 594.5 L286.86 594.31 L287.72 594.12 L288.57 593.93 L289.43 593.74 L290.28 593.55 L291.14 593.36 L292 593.17 L292.85 592.99 L293.71 592.8 L294.56 592.62 L295.42 592.44 L296.27 592.25 L297.13 592.07 L297.99 591.89 L298.84 591.72 L299.7 591.54 L300.55 591.36 L301.41 591.19 L302.26 591.01 L303.12 590.84 L303.98 590.67 L304.83 590.5 L305.69 590.33 L306.54 590.16 L307.4 589.99 L308.25 589.82 L309.11 589.65 L309.97 589.49 L310.82 589.32 L311.68 589.16 L312.53 589 L313.39 588.84 L314.24 588.67 L315.1 588.51 L315.96 588.35 L316.81 588.2 L317.67 588.04 L318.52 587.88 L319.38 587.72 L320.23 587.56 L321.09 587.41 L321.95 587.25 L322.8 587.1 L323.66 586.94 L324.51 586.79 L325.37 586.63 L326.22 586.48 L327.08 586.32 L327.94 586.17 L328.79 586.01 L329.65 585.86 L330.5 585.71 L331.36 585.55 L332.21 585.4 L333.07 585.24 L333.93 585.09 L334.78 584.93 L335.64 584.78 L336.49 584.62 L337.35 584.47 L338.2 584.31 L339.06 584.16 L339.92 584 L340.77 583.85 L341.63 583.69 L342.48 583.54 L343.34 583.38 L344.19 583.22 L345.05 583.07 L345.91 582.91 L346.76 582.75 L347.62 582.6 L348.47 582.44 L349.33 582.28 L350.18 582.12 L351.04 581.97 L351.9 581.81 L352.75 581.65 L353.61 581.49 L354.46 581.34 L355.32 581.18 L356.17 581.02 L357.03 580.86 L357.89 580.71 L358.74 580.55 L359.6 580.39 L360.45 580.23 L361.31 580.08 L362.16 579.92 L363.02 579.76 L363.88 579.6 L364.73 579.45 L365.59 579.29 L366.44 579.13 L367.3 578.98 L368.15 578.82 L369.01 578.66 L369.87 578.5 L370.72 578.35 L371.58 578.19 L372.43 578.03 L373.29 577.87 L374.14 577.72 L375 577.56" fill="none" stroke="#00b050" stroke-width="2.8" stroke-linecap="butt" stroke-linejoin="round"/>
<path d="M75.5 879.2 L76.36 876.14 L77.21 873.09 L78.07 870.04 L78.92 867.01 L79.78 863.99 L80.63 860.99 L81.49 858 L82.35 855.05 L83.2 852.12 L84.06 849.22 L84.91 846.35 L85.77 843.51 L86.62 840.71 L87.48 837.95 L88.34 835.22 L89.19 832.53 L90.05 829.88 L90.9 827.27 L91.76 824.69 L92.61 822.16 L93.47 819.66 L94.33 817.2 L95.18 814.78 L96.04 812.39 L96.89 810.04 L97.75 807.73 L98.6 805.45 L99.46 803.21 L100.32 800.99 L101.17 798.81 L102.03 796.66 L102.88 794.55 L103.74 792.46 L104.59 790.4 L105.45 788.38 L106.31 786.38 L107.16 784.41 L108.02 782.46 L108.87 780.55 L109.73 778.65 L110.58 776.79 L111.44 774.94 L112.3 773.12 L113.15 771.33 L114.01 769.55 L114.86 767.8 L115.72 766.06 L116.57 764.34 L117.43 762.64 L118.29 760.95 L119.14 759.28 L120 757.62 L120.85 755.97 L121.71 754.33 L122.56 752.7 L123.42 751.07 L124.28 749.45 L125.13 747.83 L125.99 746.21 L126.84 744.6 L127.7 742.98 L128.55 741.36 L129.41 739.73 L130.27 738.1 L131.12 736.47 L131.98 734.83 L132.83 733.19 L133.69 731.54 L134.54 729.88 L135.4 728.22 L136.26 726.55 L137.11 724.89 L137.97 723.22 L138.82 721.55 L139.68 719.89 L140.53 718.23 L141.39 716.57 L142.25 714.93 L143.1 713.3 L143.96 711.69 L144.81 710.09 L145.67 708.52 L146.52 706.97 L147.38 705.45 L148.24 703.95 L149.09 702.49 L149.95 701.06 L150.8 699.66 L151.66 698.3 L152.51 696.98 L153.37 695.69 L154.23 694.43 L155.08 693.21 L155.94 692.03 L156.79 690.88 L157.65 689.77 L158.5 688.69 L159.36 687.64 L160.22 686.61 L161.07 685.62 L161.93 684.65 L162.78 683.7 L163.64 682.78 L164.49 681.87 L165.35 680.99 L166.21 680.12 L167.06 679.27 L167.92 678.43 L168.77 677.6 L169.63 676.79 L170.48 675.98 L171.34 675.19 L172.2 674.41 L173.05 673.63 L173.91 672.87 L174.76 672.11 L175.62 671.35 L176.47 670.61 L177.33 669.87 L178.19 669.14 L179.04 668.41 L179.9 667.69 L180.75 666.98 L181.61 666.27 L182.46 665.56 L183.32 664.87 L184.18 664.18 L185.03 663.49 L185.89 662.81 L186.74 662.14 L187.6 661.47 L188.45 660.81 L189.31 660.15 L190.17 659.51 L191.02 658.86 L191.88 658.22 L192.73 657.59 L193.59 656.97 L194.44 656.35 L195.3 655.74 L196.16 655.13 L197.01 654.53 L197.87 653.94 L198.72 653.36 L199.58 652.78 L200.43 652.21 L201.29 651.65 L202.15 651.09 L203 650.55 L203.86 650.01 L204.71 649.48 L205.57 648.95 L206.42 648.44 L207.28 647.93 L208.14 647.44 L208.99 646.95 L209.85 646.47 L210.7 645.99 L211.56 645.53 L212.41 645.07 L213.27 644.62 L214.13 644.18 L214.98 643.75 L215.84 643.32 L216.69 642.9 L217.55 642.49 L218.4 642.09 L219.26 641.69 L220.12 641.3 L220.97 640.92 L221.83 640.54 L222.68 640.16 L223.54 639.8 L224.39 639.44 L225.25 639.08 L226.11 638.73 L226.96 638.39 L227.82 638.05 L228.67 637.71 L229.53 637.38 L230.38 637.05 L231.24 636.73 L232.1 636.41 L232.95 636.1 L233.81 635.78 L234.66 635.48 L235.52 635.17 L236.37 634.87 L237.23 634.58 L238.09 634.29 L238.94 634 L239.8 633.71 L240.65 633.43 L241.51 633.14 L242.36 632.87 L243.22 632.59 L244.08 632.32 L244.93 632.05 L245.79 631.78 L246.64 631.52 L247.5 631.26 L248.35 631 L249.21 630.74 L250.07 630.48 L250.92 630.23 L251.78 629.98 L252.63 629.73 L253.49 629.48 L254.34 629.24 L255.2 629 L256.06 628.76 L256.91 628.52 L257.77 628.28 L258.62 628.05 L259.48 627.81 L260.33 627.58 L261.19 627.35 L262.05 627.13 L262.9 626.9 L263.76 626.68 L264.61 626.45 L265.47 626.23 L266.32 626.01 L267.18 625.79 L268.04 625.58 L268.89 625.36 L269.75 625.15 L270.6 624.93 L271.46 624.72 L272.31 624.51 L273.17 624.31 L274.03 624.1 L274.88 623.89 L275.74 623.69 L276.59 623.49 L277.45 623.28 L278.3 623.08 L279.16 622.88 L280.02 622.69 L280.87 622.49 L281.73 622.29 L282.58 622.1 L283.44 621.91 L284.29 621.71 L285.15 621.52 L286.01 621.33 L286.86 621.14 L287.72 620.95 L288.57 620.77 L289.43 620.58 L290.28 620.39 L291.14 620.21 L292 620.03 L292.85 619.84 L293.71 619.66 L294.56 619.48 L295.42 619.3 L296.27 619.12 L297.13 618.94 L297.99 618.76 L298.84 618.58 L299.7 618.41 L300.55 618.23 L301.41 618.06 L302.26 617.88 L303.12 617.71 L303.98 617.53 L304.83 617.36 L305.69 617.19 L306.54 617.01 L307.4 616.84 L308.25 616.67 L309.11 616.5 L309.97 616.33 L310.82 616.16 L311.68 615.99 L312.53 615.82 L313.39 615.65 L314.24 615.49 L315.1 615.32 L315.96 615.15 L316.81 614.99 L317.67 614.82 L318.52 614.65 L319.38 614.49 L320.23 614.32 L321.09 614.16 L321.95 614 L322.8 613.83 L323.66 613.67 L324.51 613.51 L325.37 613.35 L326.22 613.19 L327.08 613.03 L327.94 612.87 L328.79 612.71 L329.65 612.55 L330.5 612.39 L331.36 612.23 L332.21 612.07 L333.07 611.92 L333.93 611.76 L334.78 611.6 L335.64 611.45 L336.49 611.29 L337.35 611.14 L338.2 610.99 L339.06 610.84 L339.92 610.68 L340.77 610.53 L341.63 610.38 L342.48 610.23 L343.34 610.08 L344.19 609.93 L345.05 609.78 L345.91 609.64 L346.76 609.49 L347.62 609.34 L348.47 609.2 L349.33 609.05 L350.18 608.91 L351.04 608.76 L351.9 608.62 L352.75 608.48 L353.61 608.34 L354.46 608.2 L355.32 608.06 L356.17 607.92 L357.03 607.78 L357.89 607.64 L358.74 607.5 L359.6 607.37 L360.45 607.23 L361.31 607.1 L362.16 606.96 L363.02 606.83 L363.88 606.69 L364.73 606.56 L365.59 606.43 L366.44 606.3 L367.3 606.17 L368.15 606.03 L369.01 605.9 L369.87 605.77 L370.72 605.64 L371.58 605.51 L372.43 605.39 L373.29 605.26 L374.14 605.13 L375 605" fill="none" stroke="#00b050" stroke-width="2.8" stroke-linecap="butt" stroke-linejoin="round"/>
<path d="M75.5 879.2 L76.36 877.17 L77.21 875.13 L78.07 873.1 L78.92 871.06 L79.78 869.03 L80.63 867 L81.49 864.97 L82.35 862.95 L83.2 860.93 L84.06 858.91 L84.91 856.89 L85.77 854.88 L86.62 852.88 L87.48 850.88 L88.34 848.88 L89.19 846.89 L90.05 844.9 L90.9 842.91 L91.76 840.94 L92.61 838.96 L93.47 836.99 L94.33 835.03 L95.18 833.07 L96.04 831.12 L96.89 829.18 L97.75 827.24 L98.6 825.31 L99.46 823.39 L100.32 821.47 L101.17 819.57 L102.03 817.67 L102.88 815.78 L103.74 813.91 L104.59 812.04 L105.45 810.19 L106.31 808.35 L107.16 806.52 L108.02 804.71 L108.87 802.92 L109.73 801.14 L110.58 799.38 L111.44 797.64 L112.3 795.91 L113.15 794.21 L114.01 792.52 L114.86 790.85 L115.72 789.21 L116.57 787.59 L117.43 785.98 L118.29 784.4 L119.14 782.84 L120 781.31 L120.85 779.79 L121.71 778.29 L122.56 776.82 L123.42 775.36 L124.28 773.92 L125.13 772.51 L125.99 771.11 L126.84 769.72 L127.7 768.35 L128.55 767 L129.41 765.66 L130.27 764.34 L131.12 763.02 L131.98 761.72 L132.83 760.43 L133.69 759.15 L134.54 757.87 L135.4 756.61 L136.26 755.35 L137.11 754.1 L137.97 752.86 L138.82 751.62 L139.68 750.39 L140.53 749.17 L141.39 747.95 L142.25 746.74 L143.1 745.53 L143.96 744.33 L144.81 743.14 L145.67 741.96 L146.52 740.78 L147.38 739.62 L148.24 738.46 L149.09 737.31 L149.95 736.17 L150.8 735.05 L151.66 733.93 L152.51 732.83 L153.37 731.74 L154.23 730.66 L155.08 729.6 L155.94 728.55 L156.79 727.51 L157.65 726.5 L158.5 725.49 L159.36 724.51 L160.22 723.54 L161.07 722.58 L161.93 721.65 L162.78 720.73 L163.64 719.83 L164.49 718.95 L165.35 718.08 L166.21 717.24 L167.06 716.41 L167.92 715.6 L168.77 714.81 L169.63 714.04 L170.48 713.29 L171.34 712.55 L172.2 711.84 L173.05 711.14 L173.91 710.46 L174.76 709.8 L175.62 709.16 L176.47 708.54 L177.33 707.93 L178.19 707.34 L179.04 706.77 L179.9 706.21 L180.75 705.67 L181.61 705.14 L182.46 704.63 L183.32 704.13 L184.18 703.65 L185.03 703.18 L185.89 702.72 L186.74 702.28 L187.6 701.84 L188.45 701.42 L189.31 701.01 L190.17 700.61 L191.02 700.23 L191.88 699.85 L192.73 699.48 L193.59 699.12 L194.44 698.77 L195.3 698.43 L196.16 698.1 L197.01 697.78 L197.87 697.46 L198.72 697.15 L199.58 696.85 L200.43 696.55 L201.29 696.26 L202.15 695.98 L203 695.71 L203.86 695.44 L204.71 695.17 L205.57 694.91 L206.42 694.66 L207.28 694.41 L208.14 694.17 L208.99 693.93 L209.85 693.69 L210.7 693.46 L211.56 693.24 L212.41 693.02 L213.27 692.8 L214.13 692.59 L214.98 692.38 L215.84 692.18 L216.69 691.98 L217.55 691.79 L218.4 691.59 L219.26 691.41 L220.12 691.23 L220.97 691.05 L221.83 690.87 L222.68 690.7 L223.54 690.54 L224.39 690.37 L225.25 690.21 L226.11 690.06 L226.96 689.91 L227.82 689.76 L228.67 689.62 L229.53 689.47 L230.38 689.34 L231.24 689.2 L232.1 689.07 L232.95 688.94 L233.81 688.81 L234.66 688.68 L235.52 688.56 L236.37 688.44 L237.23 688.32 L238.09 688.2 L238.94 688.08 L239.8 687.96 L240.65 687.84 L241.51 687.73 L242.36 687.61 L243.22 687.49 L244.08 687.38 L244.93 687.26 L245.79 687.14 L246.64 687.03 L247.5 686.91 L248.35 686.79 L249.21 686.67 L250.07 686.55 L250.92 686.43 L251.78 686.3 L252.63 686.18 L253.49 686.05 L254.34 685.93 L255.2 685.8 L256.06 685.67 L256.91 685.55 L257.77 685.42 L258.62 685.28 L259.48 685.15 L260.33 685.02 L261.19 684.89 L262.05 684.75 L262.9 684.61 L263.76 684.48 L264.61 684.34 L265.47 684.2 L266.32 684.06 L267.18 683.92 L268.04 683.78 L268.89 683.64 L269.75 683.5 L270.6 683.35 L271.46 683.21 L272.31 683.07 L273.17 682.92 L274.03 682.77 L274.88 682.63 L275.74 682.48 L276.59 682.33 L277.45 682.18 L278.3 682.03 L279.16 681.88 L280.02 681.73 L280.87 681.58 L281.73 681.42 L282.58 681.27 L283.44 681.12 L284.29 680.96 L285.15 680.8 L286.01 680.65 L286.86 680.49 L287.72 680.33 L288.57 680.17 L289.43 680.02 L290.28 679.86 L291.14 679.69 L292 679.53 L292.85 679.37 L293.71 679.21 L294.56 679.04 L295.42 678.88 L296.27 678.71 L297.13 678.55 L297.99 678.38 L298.84 678.22 L299.7 678.05 L300.55 677.88 L301.41 677.71 L302.26 677.54 L303.12 677.37 L303.98 677.2 L304.83 677.03 L305.69 676.85 L306.54 676.68 L307.4 676.5 L308.25 676.33 L309.11 676.15 L309.97 675.98 L310.82 675.8 L311.68 675.62 L312.53 675.44 L313.39 675.26 L314.24 675.08 L315.1 674.9 L315.96 674.72 L316.81 674.54 L317.67 674.35 L318.52 674.17 L319.38 673.99 L320.23 673.8 L321.09 673.61 L321.95 673.43 L322.8 673.24 L323.66 673.05 L324.51 672.86 L325.37 672.67 L326.22 672.48 L327.08 672.29 L327.94 672.1 L328.79 671.9 L329.65 671.71 L330.5 671.52 L331.36 671.32 L332.21 671.13 L333.07 670.93 L333.93 670.73 L334.78 670.53 L335.64 670.33 L336.49 670.14 L337.35 669.94 L338.2 669.73 L339.06 669.53 L339.92 669.33 L340.77 669.13 L341.63 668.92 L342.48 668.72 L343.34 668.51 L344.19 668.31 L345.05 668.1 L345.91 667.89 L346.76 667.68 L347.62 667.48 L348.47 667.27 L349.33 667.06 L350.18 666.84 L351.04 666.63 L351.9 666.42 L352.75 666.21 L353.61 665.99 L354.46 665.78 L355.32 665.56 L356.17 665.35 L357.03 665.13 L357.89 664.91 L358.74 664.69 L359.6 664.47 L360.45 664.26 L361.31 664.03 L362.16 663.81 L363.02 663.59 L363.88 663.37 L364.73 663.15 L365.59 662.93 L366.44 662.7 L367.3 662.48 L368.15 662.25 L369.01 662.03 L369.87 661.8 L370.72 661.58 L371.58 661.35 L372.43 661.13 L373.29 660.9 L374.14 660.67 L375 660.45" fill="none" stroke="#00b050" stroke-width="2.8" stroke-linecap="butt" stroke-linejoin="round"/>
<path d="M75.5 879.2 L76.36 877.71 L77.21 876.23 L78.07 874.74 L78.92 873.26 L79.78 871.78 L80.63 870.3 L81.49 868.83 L82.35 867.36 L83.2 865.9 L84.06 864.44 L84.91 862.99 L85.77 861.54 L86.62 860.11 L87.48 858.68 L88.34 857.26 L89.19 855.84 L90.05 854.44 L90.9 853.04 L91.76 851.65 L92.61 850.27 L93.47 848.9 L94.33 847.53 L95.18 846.18 L96.04 844.83 L96.89 843.49 L97.75 842.16 L98.6 840.84 L99.46 839.53 L100.32 838.22 L101.17 836.93 L102.03 835.64 L102.88 834.36 L103.74 833.08 L104.59 831.81 L105.45 830.56 L106.31 829.3 L107.16 828.06 L108.02 826.82 L108.87 825.59 L109.73 824.37 L110.58 823.16 L111.44 821.96 L112.3 820.76 L113.15 819.57 L114.01 818.4 L114.86 817.23 L115.72 816.07 L116.57 814.92 L117.43 813.78 L118.29 812.66 L119.14 811.54 L120 810.44 L120.85 809.35 L121.71 808.27 L122.56 807.21 L123.42 806.15 L124.28 805.12 L125.13 804.09 L125.99 803.09 L126.84 802.09 L127.7 801.11 L128.55 800.15 L129.41 799.2 L130.27 798.27 L131.12 797.35 L131.98 796.45 L132.83 795.56 L133.69 794.68 L134.54 793.82 L135.4 792.97 L136.26 792.14 L137.11 791.31 L137.97 790.5 L138.82 789.7 L139.68 788.9 L140.53 788.12 L141.39 787.34 L142.25 786.57 L143.1 785.8 L143.96 785.04 L144.81 784.29 L145.67 783.53 L146.52 782.78 L147.38 782.04 L148.24 781.3 L149.09 780.56 L149.95 779.83 L150.8 779.1 L151.66 778.38 L152.51 777.66 L153.37 776.95 L154.23 776.25 L155.08 775.56 L155.94 774.88 L156.79 774.21 L157.65 773.56 L158.5 772.93 L159.36 772.31 L160.22 771.71 L161.07 771.13 L161.93 770.57 L162.78 770.03 L163.64 769.52 L164.49 769.02 L165.35 768.55 L166.21 768.11 L167.06 767.68 L167.92 767.28 L168.77 766.9 L169.63 766.54 L170.48 766.21 L171.34 765.89 L172.2 765.59 L173.05 765.31 L173.91 765.05 L174.76 764.8 L175.62 764.57 L176.47 764.35 L177.33 764.14 L178.19 763.95 L179.04 763.77 L179.9 763.59 L180.75 763.42 L181.61 763.27 L182.46 763.12 L183.32 762.97 L184.18 762.83 L185.03 762.7 L185.89 762.57 L186.74 762.45 L187.6 762.33 L188.45 762.21 L189.31 762.1 L190.17 761.99 L191.02 761.88 L191.88 761.78 L192.73 761.68 L193.59 761.58 L194.44 761.48 L195.3 761.38 L196.16 761.29 L197.01 761.2 L197.87 761.1 L198.72 761.01 L199.58 760.92 L200.43 760.84 L201.29 760.75 L202.15 760.66 L203 760.58 L203.86 760.49 L204.71 760.41 L205.57 760.33 L206.42 760.24 L207.28 760.16 L208.14 760.08 L208.99 760 L209.85 759.91 L210.7 759.83 L211.56 759.75 L212.41 759.67 L213.27 759.58 L214.13 759.5 L214.98 759.42 L215.84 759.34 L216.69 759.25 L217.55 759.17 L218.4 759.08 L219.26 758.99 L220.12 758.91 L220.97 758.82 L221.83 758.73 L222.68 758.63 L223.54 758.54 L224.39 758.44 L225.25 758.35 L226.11 758.25 L226.96 758.14 L227.82 758.04 L228.67 757.93 L229.53 757.82 L230.38 757.71 L231.24 757.6 L232.1 757.48 L232.95 757.36 L233.81 757.23 L234.66 757.1 L235.52 756.97 L236.37 756.84 L237.23 756.7 L238.09 756.56 L238.94 756.42 L239.8 756.27 L240.65 756.13 L241.51 755.98 L242.36 755.83 L243.22 755.67 L244.08 755.52 L244.93 755.36 L245.79 755.2 L246.64 755.04 L247.5 754.89 L248.35 754.73 L249.21 754.57 L250.07 754.41 L250.92 754.25 L251.78 754.09 L252.63 753.93 L253.49 753.77 L254.34 753.61 L255.2 753.46 L256.06 753.3 L256.91 753.15 L257.77 752.99 L258.62 752.84 L259.48 752.69 L260.33 752.53 L261.19 752.38 L262.05 752.23 L262.9 752.09 L263.76 751.94 L264.61 751.79 L265.47 751.64 L266.32 751.5 L267.18 751.35 L268.04 751.21 L268.89 751.06 L269.75 750.92 L270.6 750.77 L271.46 750.63 L272.31 750.49 L273.17 750.35 L274.03 750.2 L274.88 750.06 L275.74 749.92 L276.59 749.78 L277.45 749.64 L278.3 749.49 L279.16 749.35 L280.02 749.21 L280.87 749.07 L281.73 748.93 L282.58 748.78 L283.44 748.64 L284.29 748.5 L285.15 748.36 L286.01 748.21 L286.86 748.07 L287.72 747.93 L288.57 747.78 L289.43 747.64 L290.28 747.49 L291.14 747.35 L292 747.2 L292.85 747.06 L293.71 746.91 L294.56 746.76 L295.42 746.62 L296.27 746.47 L297.13 746.32 L297.99 746.17 L298.84 746.02 L299.7 745.87 L300.55 745.72 L301.41 745.57 L302.26 745.42 L303.12 745.27 L303.98 745.12 L304.83 744.97 L305.69 744.81 L306.54 744.66 L307.4 744.51 L308.25 744.35 L309.11 744.2 L309.97 744.05 L310.82 743.89 L311.68 743.74 L312.53 743.58 L313.39 743.43 L314.24 743.27 L315.1 743.12 L315.96 742.96 L316.81 742.81 L317.67 742.65 L318.52 742.49 L319.38 742.34 L320.23 742.18 L321.09 742.02 L321.95 741.87 L322.8 741.71 L323.66 741.55 L324.51 741.39 L325.37 741.24 L326.22 741.08 L327.08 740.92 L327.94 740.76 L328.79 740.6 L329.65 740.44 L330.5 740.28 L331.36 740.12 L332.21 739.96 L333.07 739.8 L333.93 739.64 L334.78 739.48 L335.64 739.32 L336.49 739.16 L337.35 739 L338.2 738.84 L339.06 738.68 L339.92 738.52 L340.77 738.36 L341.63 738.19 L342.48 738.03 L343.34 737.87 L344.19 737.71 L345.05 737.54 L345.91 737.38 L346.76 737.22 L347.62 737.05 L348.47 736.89 L349.33 736.72 L350.18 736.56 L351.04 736.4 L351.9 736.23 L352.75 736.07 L353.61 735.9 L354.46 735.74 L355.32 735.57 L356.17 735.4 L357.03 735.24 L357.89 735.07 L358.74 734.91 L359.6 734.74 L360.45 734.57 L361.31 734.41 L362.16 734.24 L363.02 734.07 L363.88 733.9 L364.73 733.74 L365.59 733.57 L366.44 733.4 L367.3 733.23 L368.15 733.06 L369.01 732.9 L369.87 732.73 L370.72 732.56 L371.58 732.39 L372.43 732.22 L373.29 732.05 L374.14 731.88 L375 731.71" fill="none" stroke="#00b050" stroke-width="2.8" stroke-linecap="butt" stroke-linejoin="round"/>
<path d="M75.5 879.2 L76.36 877.88 L77.21 876.56 L78.07 875.24 L78.92 873.92 L79.78 872.6 L80.63 871.29 L81.49 869.99 L82.35 868.69 L83.2 867.39 L84.06 866.11 L84.91 864.83 L85.77 863.56 L86.62 862.29 L87.48 861.04 L88.34 859.79 L89.19 858.56 L90.05 857.33 L90.9 856.12 L91.76 854.92 L92.61 853.72 L93.47 852.54 L94.33 851.37 L95.18 850.22 L96.04 849.07 L96.89 847.93 L97.75 846.81 L98.6 845.7 L99.46 844.6 L100.32 843.51 L101.17 842.43 L102.03 841.36 L102.88 840.3 L103.74 839.26 L104.59 838.22 L105.45 837.2 L106.31 836.18 L107.16 835.18 L108.02 834.19 L108.87 833.2 L109.73 832.23 L110.58 831.26 L111.44 830.31 L112.3 829.37 L113.15 828.43 L114.01 827.5 L114.86 826.59 L115.72 825.68 L116.57 824.79 L117.43 823.9 L118.29 823.02 L119.14 822.15 L120 821.3 L120.85 820.45 L121.71 819.61 L122.56 818.78 L123.42 817.96 L124.28 817.16 L125.13 816.36 L125.99 815.57 L126.84 814.79 L127.7 814.03 L128.55 813.27 L129.41 812.52 L130.27 811.79 L131.12 811.06 L131.98 810.35 L132.83 809.64 L133.69 808.95 L134.54 808.26 L135.4 807.59 L136.26 806.93 L137.11 806.28 L137.97 805.65 L138.82 805.02 L139.68 804.41 L140.53 803.81 L141.39 803.22 L142.25 802.65 L143.1 802.09 L143.96 801.55 L144.81 801.02 L145.67 800.51 L146.52 800.02 L147.38 799.54 L148.24 799.08 L149.09 798.64 L149.95 798.21 L150.8 797.81 L151.66 797.42 L152.51 797.05 L153.37 796.7 L154.23 796.36 L155.08 796.05 L155.94 795.75 L156.79 795.46 L157.65 795.2 L158.5 794.95 L159.36 794.71 L160.22 794.49 L161.07 794.27 L161.93 794.08 L162.78 793.89 L163.64 793.71 L164.49 793.54 L165.35 793.38 L166.21 793.23 L167.06 793.08 L167.92 792.94 L168.77 792.8 L169.63 792.67 L170.48 792.54 L171.34 792.41 L172.2 792.28 L173.05 792.16 L173.91 792.04 L174.76 791.91 L175.62 791.79 L176.47 791.67 L177.33 791.55 L178.19 791.42 L179.04 791.3 L179.9 791.18 L180.75 791.05 L181.61 790.93 L182.46 790.8 L183.32 790.68 L184.18 790.55 L185.03 790.42 L185.89 790.3 L186.74 790.17 L187.6 790.04 L188.45 789.91 L189.31 789.78 L190.17 789.65 L191.02 789.53 L191.88 789.4 L192.73 789.27 L193.59 789.14 L194.44 789.01 L195.3 788.88 L196.16 788.75 L197.01 788.62 L197.87 788.49 L198.72 788.36 L199.58 788.23 L200.43 788.1 L201.29 787.96 L202.15 787.83 L203 787.7 L203.86 787.57 L204.71 787.43 L205.57 787.3 L206.42 787.16 L207.28 787.03 L208.14 786.89 L208.99 786.75 L209.85 786.61 L210.7 786.47 L211.56 786.33 L212.41 786.19 L213.27 786.04 L214.13 785.9 L214.98 785.75 L215.84 785.61 L216.69 785.46 L217.55 785.31 L218.4 785.17 L219.26 785.02 L220.12 784.87 L220.97 784.71 L221.83 784.56 L222.68 784.41 L223.54 784.26 L224.39 784.1 L225.25 783.95 L226.11 783.79 L226.96 783.64 L227.82 783.48 L228.67 783.33 L229.53 783.17 L230.38 783.01 L231.24 782.85 L232.1 782.7 L232.95 782.54 L233.81 782.38 L234.66 782.23 L235.52 782.07 L236.37 781.91 L237.23 781.76 L238.09 781.6 L238.94 781.45 L239.8 781.3 L240.65 781.14 L241.51 780.99 L242.36 780.84 L243.22 780.69 L244.08 780.54 L244.93 780.4 L245.79 780.25 L246.64 780.11 L247.5 779.97 L248.35 779.83 L249.21 779.69 L250.07 779.55 L250.92 779.41 L251.78 779.28 L252.63 779.15 L253.49 779.02 L254.34 778.89 L255.2 778.76 L256.06 778.63 L256.91 778.51 L257.77 778.39 L258.62 778.26 L259.48 778.14 L260.33 778.02 L261.19 777.91 L262.05 777.79 L262.9 777.68 L263.76 777.56 L264.61 777.45 L265.47 777.34 L266.32 777.22 L267.18 777.11 L268.04 777 L268.89 776.89 L269.75 776.78 L270.6 776.68 L271.46 776.57 L272.31 776.46 L273.17 776.35 L274.03 776.25 L274.88 776.14 L275.74 776.03 L276.59 775.93 L277.45 775.82 L278.3 775.71 L279.16 775.6 L280.02 775.5 L280.87 775.39 L281.73 775.28 L282.58 775.17 L283.44 775.06 L284.29 774.95 L285.15 774.84 L286.01 774.73 L286.86 774.61 L287.72 774.5 L288.57 774.39 L289.43 774.27 L290.28 774.15 L291.14 774.03 L292 773.91 L292.85 773.79 L293.71 773.66 L294.56 773.54 L295.42 773.41 L296.27 773.28 L297.13 773.15 L297.99 773.01 L298.84 772.87 L299.7 772.73 L300.55 772.59 L301.41 772.44 L302.26 772.3 L303.12 772.15 L303.98 771.99 L304.83 771.84 L305.69 771.68 L306.54 771.52 L307.4 771.35 L308.25 771.19 L309.11 771.02 L309.97 770.84 L310.82 770.67 L311.68 770.49 L312.53 770.32 L313.39 770.13 L314.24 769.95 L315.1 769.77 L315.96 769.58 L316.81 769.39 L317.67 769.21 L318.52 769.02 L319.38 768.83 L320.23 768.63 L321.09 768.44 L321.95 768.25 L322.8 768.06 L323.66 767.87 L324.51 767.68 L325.37 767.49 L326.22 767.3 L327.08 767.11 L327.94 766.92 L328.79 766.73 L329.65 766.55 L330.5 766.37 L331.36 766.19 L332.21 766.01 L333.07 765.84 L333.93 765.66 L334.78 765.49 L335.64 765.33 L336.49 765.16 L337.35 765.01 L338.2 764.85 L339.06 764.7 L339.92 764.55 L340.77 764.41 L341.63 764.27 L342.48 764.14 L343.34 764.01 L344.19 763.88 L345.05 763.76 L345.91 763.65 L346.76 763.54 L347.62 763.44 L348.47 763.34 L349.33 763.25 L350.18 763.16 L351.04 763.08 L351.9 763 L352.75 762.93 L353.61 762.86 L354.46 762.8 L355.32 762.74 L356.17 762.68 L357.03 762.63 L357.89 762.59 L358.74 762.55 L359.6 762.51 L360.45 762.48 L361.31 762.44 L362.16 762.42 L363.02 762.39 L363.88 762.37 L364.73 762.35 L365.59 762.33 L366.44 762.31 L367.3 762.29 L368.15 762.28 L369.01 762.27 L369.87 762.26 L370.72 762.25 L371.58 762.24 L372.43 762.23 L373.29 762.22 L374.14 762.21 L375 762.2" fill="none" stroke="#00b050" stroke-width="2.8" stroke-linecap="butt" stroke-linejoin="round"/>
<path d="M375 487.522 L380.78 486.689 L386.57 485.855 L392.36 485.021 L398.15 484.188 L403.94 483.354 L409.73 482.52 L415.51 481.687 L421.3 480.853 L427.08 480.02 L432.86 479.187 L438.63 478.354 L444.4 477.522 L450.13 476.695 L455.86 475.868 L461.58 475.042 L467.3 474.216 L473.01 473.39 L478.73 472.564 L484.44 471.739 L490.15 470.913 L495.86 470.088 L501.57 469.262 L507.28 468.436 L513 467.611" transform="scale(1 1.13)" fill="none" stroke="#00b050" stroke-width="2.75" stroke-linecap="round" stroke-dasharray="0 4.9" stroke-linejoin="round"/>
<path d="M375 510.708 L378.49 510.098 L381.99 509.479 L385.51 508.853 L389.03 508.225 L392.55 507.597 L396.07 506.972 L399.57 506.353 L403.06 505.743 L406.52 505.145 L409.95 504.561 L413.35 503.996 L416.7 503.451 L419.76 502.967 L422.85 502.489 L425.94 502.02 L429.02 501.559 L432.09 501.109 L435.12 500.67 L438.1 500.242 L441.02 499.828 L443.86 499.427 L446.62 499.041 L449.27 498.672 L451.8 498.319 L453.58 498.064 L455.3 497.806 L456.99 497.547 L458.63 497.292 L460.22 497.044 L461.79 496.808 L463.31 496.586 L464.81 496.384 L466.27 496.204 L467.7 496.051 L469.11 495.929 L470.5 495.841 L471.57 495.786 L472.61 495.735 L473.63 495.691 L474.63 495.657 L475.61 495.637 L476.58 495.634 L477.53 495.653 L478.46 495.697 L479.39 495.769 L480.3 495.874 L481.2 496.015 L482.1 496.195 L482.94 496.402 L483.74 496.641 L484.53 496.91 L485.3 497.207 L486.07 497.529 L486.82 497.875 L487.57 498.244 L488.33 498.633 L489.1 499.04 L489.88 499.464 L490.68 499.903 L491.5 500.354 L492.59 500.963 L493.69 501.609 L494.81 502.289 L495.95 503.003 L497.1 503.747 L498.27 504.519 L499.44 505.319 L500.63 506.143 L501.83 506.99 L503.05 507.857 L504.27 508.743 L505.5 509.646 L507.05 510.814 L508.66 512.065 L510.31 513.382 L512 514.75 L513.69 516.153 L515.4 517.574 L517.09 518.996 L518.77 520.405 L520.41 521.783 L522 523.115 L523.54 524.385 L525 525.575 L526.08 526.437 L527.12 527.264 L528.13 528.061 L529.12 528.835 L530.09 529.59 L531.05 530.333 L531.99 531.07 L532.93 531.807 L533.86 532.549 L534.8 533.303 L535.74 534.073 L536.7 534.867 L537.69 535.704 L538.67 536.554 L539.64 537.416 L540.61 538.287 L541.59 539.163 L542.55 540.043 L543.52 540.922 L544.49 541.799 L545.47 542.67 L546.44 543.533 L547.42 544.384 L548.4 545.221 L549.37 546.024 L550.36 546.821 L551.37 547.612 L552.38 548.398 L553.39 549.178 L554.4 549.953 L555.4 550.723 L556.38 551.489 L557.34 552.25 L558.26 553.008 L559.15 553.762 L560 554.513 L560.68 555.122 L561.35 555.71 L562 556.282 L562.64 556.845 L563.27 557.405 L563.87 557.968 L564.46 558.541 L565.02 559.13 L565.56 559.741 L566.07 560.381 L566.55 561.055 L567 561.77 L567.47 562.647 L567.89 563.565 L568.25 564.522 L568.58 565.513 L568.87 566.533 L569.13 567.579 L569.38 568.646 L569.62 569.731 L569.85 570.828 L570.09 571.935 L570.33 573.047 L570.6 574.159 L570.91 575.455 L571.21 576.788 L571.49 578.151 L571.76 579.539 L572.03 580.943 L572.3 582.359 L572.58 583.778 L572.85 585.195 L573.14 586.604 L573.44 587.996 L573.76 589.366 L574.1 590.708 L574.43 591.948 L574.77 593.17 L575.12 594.377 L575.47 595.573 L575.84 596.761 L576.21 597.944 L576.59 599.125 L576.99 600.309 L577.4 601.499 L577.82 602.697 L578.25 603.907 L578.7 605.133 L579.21 606.483 L579.74 607.852 L580.29 609.234 L580.86 610.627 L581.44 612.025 L582.04 613.427 L582.64 614.827 L583.25 616.223 L583.86 617.61 L584.48 618.984 L585.09 620.343 L585.7 621.681 L586.29 622.942 L586.9 624.209 L587.53 625.478 L588.17 626.744 L588.82 628.003 L589.46 629.248 L590.09 630.477 L590.7 631.684 L591.28 632.864 L591.83 634.012 L592.34 635.124 L592.8 636.195 L593.11 636.948 L593.41 637.666 L593.69 638.355 L593.95 639.024 L594.2 639.677 L594.44 640.323 L594.66 640.968 L594.87 641.62 L595.07 642.284 L595.26 642.968 L595.43 643.68 L595.6 644.425 L595.78 645.343 L595.93 646.262 L596.07 647.189 L596.18 648.129 L596.27 649.087 L596.35 650.071 L596.42 651.085 L596.48 652.135 L596.53 653.227 L596.59 654.367 L596.64 655.561 L596.7 656.814 L596.79 659.016 L596.86 661.392 L596.91 663.921 L596.94 666.584 L596.96 669.36 L596.97 672.229 L596.98 675.17 L596.98 678.165 L596.98 681.192 L596.98 684.231 L596.99 687.262 L597 690.265 L597.02 693.749 L597.04 697.327 L597.07 700.983 L597.09 704.7 L597.1 708.459 L597.12 712.244 L597.14 716.037 L597.15 719.821 L597.17 723.578 L597.18 727.29 L597.19 730.941 L597.2 734.513 L597.21 737.825 L597.21 741.262 L597.21 744.775 L597.21 748.316 L597.21 751.834 L597.21 755.28 L597.21 758.604 L597.21 761.759 L597.2 764.693 L597.2 767.357 L597.2 769.703 L597.2 771.681 L597.18 772.385 L597.14 773.062 L597.08 773.711 L597.02 774.327 L596.95 774.908 L596.89 775.45 L596.85 775.949 L596.83 776.403 L596.85 776.809 L596.91 777.162 L597.03 777.46 L597.2 777.699 L597.33 777.806 L597.46 777.884 L597.61 777.938 L597.77 777.971 L597.94 777.988 L598.12 777.991 L598.32 777.986 L598.53 777.976 L598.75 777.965 L598.99 777.957 L599.24 777.956 L599.5 777.965 L600.22 777.996 L601.07 778.016 L602.04 778.027 L603.09 778.031 L604.23 778.028 L605.42 778.02 L606.65 778.01 L607.9 777.998 L609.15 777.986 L610.37 777.975 L611.57 777.967 L612.7 777.965" transform="scale(1 1.13)" fill="none" stroke="#00b050" stroke-width="2.75" stroke-linecap="round" stroke-dasharray="0 4.9" stroke-linejoin="round"/>
<path d="M375 535.487 L378.47 534.763 L381.92 534.038 L385.37 533.312 L388.81 532.585 L392.25 531.858 L395.69 531.132 L399.15 530.407 L402.61 529.683 L406.1 528.962 L409.6 528.243 L413.14 527.527 L416.7 526.814 L420.53 526.054 L424.43 525.281 L428.4 524.499 L432.4 523.715 L436.42 522.932 L440.44 522.157 L444.44 521.395 L448.4 520.651 L452.31 519.931 L456.14 519.239 L459.88 518.582 L463.5 517.965 L466.49 517.464 L469.53 516.958 L472.59 516.455 L475.63 515.961 L478.63 515.483 L481.57 515.029 L484.41 514.605 L487.13 514.218 L489.69 513.876 L492.08 513.585 L494.26 513.353 L496.2 513.186 L497.07 513.121 L497.88 513.06 L498.64 513.004 L499.36 512.956 L500.04 512.919 L500.69 512.895 L501.31 512.888 L501.92 512.899 L502.52 512.932 L503.11 512.989 L503.7 513.073 L504.3 513.186 L504.83 513.311 L505.34 513.455 L505.82 513.617 L506.28 513.796 L506.74 513.993 L507.2 514.207 L507.65 514.438 L508.12 514.686 L508.6 514.951 L509.1 515.231 L509.63 515.528 L510.2 515.841 L511.22 516.425 L512.33 517.098 L513.5 517.845 L514.73 518.653 L516.01 519.507 L517.31 520.393 L518.63 521.296 L519.96 522.202 L521.27 523.098 L522.55 523.968 L523.8 524.798 L525 525.575 L526.02 526.223 L527.02 526.857 L528.01 527.477 L528.99 528.088 L529.96 528.69 L530.93 529.285 L531.89 529.876 L532.84 530.464 L533.8 531.052 L534.76 531.641 L535.73 532.234 L536.7 532.832 L537.67 533.434 L538.65 534.04 L539.62 534.649 L540.59 535.257 L541.56 535.866 L542.54 536.472 L543.51 537.076 L544.49 537.675 L545.46 538.268 L546.44 538.854 L547.42 539.432 L548.4 540 L549.36 540.55 L550.32 541.1 L551.27 541.649 L552.23 542.194 L553.19 542.734 L554.16 543.267 L555.12 543.789 L556.09 544.301 L557.06 544.799 L558.03 545.282 L559.01 545.748 L560 546.195 L560.96 546.606 L561.92 546.998 L562.89 547.374 L563.86 547.735 L564.83 548.084 L565.81 548.423 L566.79 548.753 L567.77 549.077 L568.76 549.397 L569.74 549.715 L570.72 550.034 L571.7 550.354 L572.67 550.675 L573.64 550.999 L574.61 551.323 L575.58 551.645 L576.55 551.963 L577.53 552.275 L578.5 552.579 L579.48 552.872 L580.45 553.152 L581.43 553.417 L582.42 553.665 L583.4 553.894 L584.37 554.097 L585.34 554.279 L586.31 554.444 L587.28 554.595 L588.26 554.733 L589.23 554.861 L590.21 554.983 L591.19 555.1 L592.17 555.215 L593.15 555.331 L594.12 555.45 L595.1 555.575 L596.07 555.697 L597.05 555.808 L598.03 555.91 L599.01 556.007 L599.98 556.102 L600.96 556.199 L601.94 556.3 L602.91 556.409 L603.89 556.53 L604.86 556.665 L605.83 556.817 L606.8 556.991 L607.79 557.179 L608.79 557.367 L609.79 557.56 L610.8 557.76 L611.81 557.973 L612.81 558.2 L613.8 558.446 L614.78 558.715 L615.75 559.01 L616.69 559.335 L617.61 559.693 L618.5 560.088 L619.35 560.53 L620.15 561.024 L620.92 561.56 L621.67 562.132 L622.4 562.729 L623.12 563.343 L623.84 563.966 L624.58 564.588 L625.33 565.202 L626.11 565.798 L626.93 566.368 L627.8 566.903 L628.84 567.482 L629.93 568.051 L631.07 568.607 L632.24 569.152 L633.43 569.685 L634.64 570.207 L635.85 570.717 L637.07 571.216 L638.29 571.703 L639.48 572.179 L640.66 572.644 L641.8 573.097 L642.82 573.492 L643.85 573.874 L644.88 574.243 L645.92 574.602 L646.95 574.952 L647.97 575.294 L648.97 575.629 L649.94 575.96 L650.89 576.286 L651.8 576.61 L652.68 576.933 L653.5 577.257 L654.07 577.478 L654.63 577.679 L655.17 577.867 L655.7 578.047 L656.22 578.225 L656.72 578.407 L657.2 578.598 L657.66 578.806 L658.1 579.035 L658.52 579.292 L658.92 579.582 L659.3 579.912 L659.69 580.321 L660.04 580.766 L660.36 581.243 L660.64 581.749 L660.91 582.282 L661.15 582.84 L661.38 583.419 L661.59 584.018 L661.8 584.632 L662 585.261 L662.2 585.9 L662.4 586.549 L662.66 587.434 L662.9 588.366 L663.11 589.338 L663.31 590.344 L663.5 591.379 L663.67 592.437 L663.83 593.512 L663.97 594.598 L664.11 595.69 L664.25 596.781 L664.37 597.865 L664.5 598.938 L664.62 600.066 L664.73 601.204 L664.82 602.351 L664.9 603.506 L664.97 604.666 L665.03 605.831 L665.09 606.999 L665.15 608.169 L665.21 609.338 L665.27 610.506 L665.33 611.671 L665.4 612.832" transform="scale(1 1.13)" fill="none" stroke="#00b050" stroke-width="2.75" stroke-linecap="round" stroke-dasharray="0 4.9" stroke-linejoin="round"/>
<path d="M375 585.133 L376.53 584.874 L378.04 584.613 L379.55 584.351 L381.05 584.089 L382.55 583.826 L384.06 583.564 L385.57 583.304 L387.1 583.044 L388.64 582.787 L390.2 582.533 L391.79 582.282 L393.4 582.035 L395.26 581.76 L397.17 581.482 L399.12 581.205 L401.11 580.93 L403.11 580.657 L405.13 580.388 L407.14 580.124 L409.13 579.868 L411.09 579.62 L413.02 579.381 L414.89 579.153 L416.7 578.938 L418.19 578.763 L419.68 578.59 L421.16 578.419 L422.63 578.253 L424.08 578.092 L425.5 577.939 L426.9 577.794 L428.25 577.66 L429.55 577.537 L430.8 577.428 L431.98 577.334 L433.1 577.257 L433.79 577.212 L434.44 577.167 L435.06 577.125 L435.65 577.086 L436.23 577.052 L436.79 577.025 L437.34 577.006 L437.88 576.996 L438.42 576.997 L438.97 577.01 L439.53 577.037 L440.1 577.08 L440.69 577.133 L441.27 577.191 L441.85 577.257 L442.43 577.333 L443 577.419 L443.58 577.518 L444.16 577.633 L444.74 577.764 L445.32 577.914 L445.91 578.085 L446.5 578.278 L447.1 578.496 L447.86 578.804 L448.63 579.15 L449.4 579.531 L450.19 579.944 L450.98 580.386 L451.77 580.855 L452.56 581.348 L453.34 581.862 L454.12 582.394 L454.89 582.941 L455.65 583.501 L456.4 584.071 L457.22 584.731 L458.04 585.421 L458.85 586.139 L459.65 586.882 L460.44 587.649 L461.22 588.435 L462 589.24 L462.77 590.061 L463.53 590.895 L464.29 591.739 L465.05 592.592 L465.8 593.451 L466.61 594.405 L467.41 595.385 L468.19 596.39 L468.97 597.414 L469.74 598.454 L470.51 599.506 L471.27 600.565 L472.03 601.629 L472.79 602.692 L473.56 603.751 L474.33 604.802 L475.1 605.841 L475.9 606.872 L476.72 607.899 L477.57 608.924 L478.43 609.947 L479.28 610.97 L480.13 611.994 L480.96 613.021 L481.76 614.051 L482.52 615.086 L483.24 616.126 L483.9 617.174 L484.5 618.23 L484.98 619.196 L485.42 620.166 L485.81 621.139 L486.17 622.116 L486.5 623.096 L486.8 624.081 L487.08 625.07 L487.35 626.064 L487.61 627.062 L487.87 628.066 L488.13 629.074 L488.4 630.088 L488.68 631.133 L488.93 632.165 L489.18 633.19 L489.41 634.214 L489.63 635.243 L489.85 636.283 L490.07 637.34 L490.28 638.421 L490.5 639.531 L490.72 640.677 L490.95 641.863 L491.2 643.097 L491.55 644.908 L491.91 646.849 L492.28 648.894 L492.66 651.021 L493.04 653.202 L493.43 655.415 L493.82 657.634 L494.22 659.836 L494.61 661.994 L495.01 664.084 L495.4 666.083 L495.8 667.965 L496.12 669.365 L496.45 670.717 L496.8 672.027 L497.14 673.302 L497.49 674.552 L497.84 675.782 L498.18 677.001 L498.51 678.216 L498.82 679.434 L499.1 680.664 L499.37 681.912 L499.6 683.186 L499.81 684.475 L499.99 685.737 L500.14 686.984 L500.28 688.223 L500.4 689.466 L500.51 690.723 L500.61 692.004 L500.69 693.319 L500.77 694.677 L500.85 696.089 L500.92 697.565 L501 699.115 L501.11 701.564 L501.19 704.166 L501.25 706.901 L501.3 709.751 L501.33 712.699 L501.35 715.725 L501.36 718.812 L501.37 721.941 L501.37 725.094 L501.38 728.252 L501.39 731.398 L501.4 734.513 L501.42 737.951 L501.43 741.439 L501.43 744.971 L501.43 748.54 L501.43 752.137 L501.43 755.756 L501.42 759.39 L501.42 763.031 L501.41 766.672 L501.41 770.306 L501.4 773.925 L501.4 777.522" transform="scale(1 1.13)" fill="none" stroke="#00b050" stroke-width="2.75" stroke-linecap="round" stroke-dasharray="0 4.9" stroke-linejoin="round"/>
<path d="M375 647.611 L376.11 647.402 L377.2 647.189 L378.28 646.974 L379.35 646.757 L380.43 646.54 L381.5 646.325 L382.6 646.112 L383.7 645.903 L384.83 645.7 L385.99 645.502 L387.17 645.313 L388.4 645.133 L390 644.899 L391.7 644.642 L393.46 644.371 L395.28 644.097 L397.14 643.831 L399.01 643.584 L400.87 643.367 L402.7 643.189 L404.5 643.063 L406.22 642.998 L407.86 643.006 L409.4 643.097 L410.51 643.215 L411.6 643.363 L412.66 643.539 L413.7 643.745 L414.71 643.98 L415.7 644.245 L416.66 644.539 L417.59 644.863 L418.49 645.217 L419.35 645.601 L420.19 646.016 L421 646.46 L421.72 646.9 L422.42 647.364 L423.09 647.853 L423.73 648.367 L424.35 648.908 L424.95 649.474 L425.52 650.068 L426.06 650.688 L426.58 651.337 L427.08 652.013 L427.55 652.718 L428 653.451 L428.52 654.435 L428.99 655.49 L429.41 656.607 L429.79 657.777 L430.12 658.991 L430.43 660.24 L430.7 661.515 L430.95 662.807 L431.18 664.107 L431.39 665.406 L431.6 666.695 L431.8 667.965 L431.99 669.275 L432.15 670.563 L432.28 671.838 L432.38 673.111 L432.46 674.393 L432.53 675.695 L432.58 677.027 L432.62 678.4 L432.66 679.824 L432.7 681.311 L432.75 682.87 L432.8 684.513 L432.89 687.282 L432.96 690.249 L433.02 693.393 L433.07 696.688 L433.11 700.111 L433.14 703.639 L433.17 707.247 L433.19 710.912 L433.22 714.61 L433.24 718.317 L433.27 722.009 L433.3 725.664 L433.34 729.775 L433.38 733.96 L433.41 738.207 L433.45 742.506 L433.48 746.847 L433.51 751.218 L433.54 755.611 L433.57 760.014 L433.6 764.417 L433.64 768.81 L433.67 773.182 L433.7 777.522" transform="scale(1 1.13)" fill="none" stroke="#00b050" stroke-width="2.75" stroke-linecap="round" stroke-dasharray="0 4.9" stroke-linejoin="round"/>
<path d="M375 674.425 L375.93 674.45 L376.88 674.445 L377.85 674.419 L378.83 674.383 L379.8 674.347 L380.77 674.321 L381.73 674.316 L382.66 674.341 L383.56 674.408 L384.42 674.525 L385.24 674.705 L386 674.956 L386.64 675.232 L387.26 675.544 L387.85 675.892 L388.43 676.274 L388.97 676.688 L389.5 677.132 L390 677.606 L390.47 678.107 L390.92 678.633 L391.34 679.185 L391.73 679.759 L392.1 680.354 L392.51 681.152 L392.86 681.993 L393.15 682.877 L393.38 683.804 L393.57 684.774 L393.73 685.786 L393.86 686.84 L393.97 687.937 L394.07 689.076 L394.17 690.257 L394.28 691.479 L394.4 692.743 L394.59 694.906 L394.73 697.224 L394.83 699.681 L394.9 702.263 L394.94 704.956 L394.96 707.744 L394.96 710.614 L394.96 713.55 L394.96 716.537 L394.96 719.562 L394.97 722.609 L395 725.664 L395.05 729.574 L395.09 733.628 L395.13 737.803 L395.16 742.081 L395.19 746.44 L395.22 750.86 L395.25 755.32 L395.28 759.801 L395.31 764.282 L395.34 768.743 L395.37 773.163 L395.4 777.522" transform="scale(1 1.13)" fill="none" stroke="#00b050" stroke-width="2.75" stroke-linecap="round" stroke-dasharray="0 4.9" stroke-linejoin="round"/>
<line x1="375" y1="498" x2="375" y2="879.2" stroke="#000" stroke-width="2.5" stroke-linecap="round" stroke-dasharray="19 11.2" stroke-dashoffset="0"/>
<polygon points="104.99,708.98 113.91,705.02 167.27,825.13 172.87,822.64 166.9,836.3 152.77,831.57 158.36,829.09" fill="#00b050" stroke="#000" stroke-width="1.9" stroke-linejoin="miter"/>
<text x="182.1" y="835.8" font-size="19" fill="#000" font-weight="bold">a<tspan font-size="13.3" dy="4.56">0</tspan><tspan dy="-4.56">/W</tspan></text>
<text x="384.5" y="536.2" font-size="17.5" fill="#a6a6a6" font-weight="bold">a<tspan font-size="12.25" dy="4.2">0</tspan><tspan dy="-4.2">/W</tspan></text>
<text x="453.4" y="531.3" class="v">0,31</text>
<text x="453.4" y="557" class="v">0,39</text>
<text x="453.4" y="581.7" class="v">0,47</text>
<text x="452" y="652.9" class="v">0,61</text>
<text x="401.8" y="718.8" class="v">0,73</text>
<text x="400.8" y="835.6" class="v">0,79</text>
<text transform="translate(381 655) rotate(-10.2)" font-size="11.5" font-weight="bold" fill="#00b050">used as J</text>
<text transform="translate(666 871.8) rotate(-90)" font-size="14.5" font-weight="bold" fill="#00b050">mat.B</text>
<rect x="75.5" y="988.7" width="598.5" height="381.3" fill="none" stroke="#000" stroke-width="2.5"/>
<line x1="75.5" y1="1370" x2="75.5" y2="1375.5" stroke="#000" stroke-width="2.5"/>
<text x="75.3" y="1396" text-anchor="middle" class="tk">0</text>
<line x1="135.35" y1="1370" x2="135.35" y2="1375.5" stroke="#000" stroke-width="2.5"/>
<text x="135.15" y="1396" text-anchor="middle" class="tk">5</text>
<line x1="195.2" y1="1370" x2="195.2" y2="1375.5" stroke="#000" stroke-width="2.5"/>
<text x="195" y="1396" text-anchor="middle" class="tk">10</text>
<line x1="255.05" y1="1370" x2="255.05" y2="1375.5" stroke="#000" stroke-width="2.5"/>
<text x="254.85" y="1396" text-anchor="middle" class="tk">15</text>
<line x1="314.9" y1="1370" x2="314.9" y2="1375.5" stroke="#000" stroke-width="2.5"/>
<text x="314.7" y="1396" text-anchor="middle" class="tk">20</text>
<line x1="374.75" y1="1370" x2="374.75" y2="1375.5" stroke="#000" stroke-width="2.5"/>
<text x="374.55" y="1396" text-anchor="middle" class="tk">25</text>
<line x1="434.6" y1="1370" x2="434.6" y2="1375.5" stroke="#000" stroke-width="2.5"/>
<text x="434.4" y="1396" text-anchor="middle" class="tk">30</text>
<line x1="494.45" y1="1370" x2="494.45" y2="1375.5" stroke="#000" stroke-width="2.5"/>
<text x="494.25" y="1396" text-anchor="middle" class="tk">35</text>
<line x1="554.3" y1="1370" x2="554.3" y2="1375.5" stroke="#000" stroke-width="2.5"/>
<text x="554.1" y="1396" text-anchor="middle" class="tk">40</text>
<line x1="614.15" y1="1370" x2="614.15" y2="1375.5" stroke="#000" stroke-width="2.5"/>
<text x="613.95" y="1396" text-anchor="middle" class="tk">45</text>
<line x1="674" y1="1370" x2="674" y2="1375.5" stroke="#000" stroke-width="2.5"/>
<text x="673.8" y="1396" text-anchor="middle" class="tk">50</text>
<line x1="70" y1="1370" x2="75.5" y2="1370" stroke="#000" stroke-width="2.5"/>
<text x="60.8" y="1375.9" text-anchor="end" class="tk">0</text>
<line x1="70" y1="1274.67" x2="75.5" y2="1274.67" stroke="#000" stroke-width="2.5"/>
<text x="60.8" y="1280.58" text-anchor="end" class="tk">25</text>
<line x1="70" y1="1179.35" x2="75.5" y2="1179.35" stroke="#000" stroke-width="2.5"/>
<text x="60.8" y="1185.25" text-anchor="end" class="tk">50</text>
<line x1="70" y1="1084.03" x2="75.5" y2="1084.03" stroke="#000" stroke-width="2.5"/>
<text x="60.8" y="1089.93" text-anchor="end" class="tk">75</text>
<line x1="70" y1="988.7" x2="75.5" y2="988.7" stroke="#000" stroke-width="2.5"/>
<text x="60.8" y="994.6" text-anchor="end" class="tk">100</text>
<text transform="translate(23.1 1181.2) rotate(-90)" text-anchor="middle" class="ax">P (N)</text>
<text x="372.6" y="1423.9" text-anchor="middle" class="ax">u (mm)</text>
<text x="90.5" y="1021.5" class="pl">(c)</text>
<path d="M75.5 1370 L76.92 1354.09 L78.35 1340.38 L79.77 1328.42 L81.19 1317.87 L82.62 1308.45 L84.04 1299.95 L85.46 1292.21 L86.89 1285.1 L88.31 1278.5 L89.73 1272.35 L91.15 1266.58 L92.58 1261.13 L94 1255.96 L95.42 1251.04 L96.85 1246.35 L98.27 1241.86 L99.69 1237.55 L101.12 1233.4 L102.54 1229.42 L103.96 1225.57 L105.39 1221.87 L106.81 1218.29 L108.23 1214.83 L109.66 1211.48 L111.08 1208.24 L112.5 1205.11 L113.93 1202.07 L115.35 1199.13 L116.77 1196.28 L118.2 1193.52 L119.62 1190.84 L121.04 1188.24 L122.46 1185.72 L123.89 1183.27 L125.31 1180.89 L126.73 1178.58 L128.16 1176.34 L129.58 1174.16 L131 1172.04 L132.43 1169.98 L133.85 1167.98 L135.27 1166.04 L136.7 1164.14 L138.12 1162.3 L139.54 1160.51 L140.97 1158.77 L142.39 1157.07 L143.81 1155.41 L145.24 1153.8 L146.66 1152.23 L148.08 1150.7 L149.5 1149.21 L150.93 1147.76 L152.35 1146.34 L153.77 1144.95 L155.2 1143.6 L156.62 1142.29 L158.04 1141 L159.47 1139.74 L160.89 1138.51 L162.31 1137.31 L163.74 1136.14 L165.16 1135 L166.58 1133.87 L168.01 1132.78 L169.43 1131.7 L170.85 1130.65 L172.28 1129.63 L173.7 1128.62 L175.12 1127.63 L176.54 1126.67 L177.97 1125.72 L179.39 1124.79 L180.81 1123.88 L182.24 1122.99 L183.66 1122.11 L185.08 1121.25 L186.51 1120.41 L187.93 1119.58 L189.35 1118.76 L190.78 1117.96 L192.2 1117.18 L193.62 1116.4 L195.05 1115.64 L196.47 1114.89 L197.89 1114.16 L199.32 1113.43 L200.74 1112.72 L202.16 1112.02 L203.59 1111.33 L205.01 1110.65 L206.43 1109.97 L207.85 1109.31 L209.28 1108.66 L210.7 1108.02 L212.12 1107.38 L213.55 1106.75 L214.97 1106.14 L216.39 1105.52 L217.82 1104.92 L219.24 1104.33 L220.66 1103.74 L222.09 1103.16 L223.51 1102.58 L224.93 1102.01 L226.36 1101.45 L227.78 1100.9 L229.2 1100.35 L230.63 1099.8 L232.05 1099.26 L233.47 1098.73 L234.89 1098.2 L236.32 1097.68 L237.74 1097.16 L239.16 1096.65 L240.59 1096.14 L242.01 1095.63 L243.43 1095.13 L244.86 1094.64 L246.28 1094.15 L247.7 1093.66 L249.13 1093.18 L250.55 1092.7 L251.97 1092.22 L253.4 1091.75 L254.82 1091.28 L256.24 1090.81 L257.67 1090.35 L259.09 1089.89 L260.51 1089.43 L261.93 1088.98 L263.36 1088.52 L264.78 1088.08 L266.2 1087.63 L267.63 1087.19 L269.05 1086.75 L270.47 1086.31 L271.9 1085.87 L273.32 1085.44 L274.74 1085.01 L276.17 1084.58 L277.59 1084.15 L279.01 1083.72 L280.44 1083.3 L281.86 1082.88 L283.28 1082.46 L284.71 1082.04 L286.13 1081.63 L287.55 1081.21 L288.98 1080.8 L290.4 1080.39 L291.82 1079.98 L293.24 1079.57 L294.67 1079.17 L296.09 1078.76 L297.51 1078.36 L298.94 1077.96 L300.36 1077.56 L301.78 1077.16 L303.21 1076.76 L304.63 1076.36 L306.05 1075.97 L307.48 1075.57 L308.9 1075.18 L310.32 1074.79 L311.75 1074.4 L313.17 1074 L314.59 1073.62 L316.02 1073.23 L317.44 1072.84 L318.86 1072.45 L320.28 1072.07 L321.71 1071.68 L323.13 1071.3 L324.55 1070.92 L325.98 1070.53 L327.4 1070.15 L328.82 1069.77 L330.25 1069.39 L331.67 1069.01 L333.09 1068.63 L334.52 1068.26 L335.94 1067.88 L337.36 1067.5 L338.79 1067.13 L340.21 1066.75 L341.63 1066.37 L343.06 1066 L344.48 1065.63 L345.9 1065.25 L347.32 1064.88 L348.75 1064.51 L350.17 1064.14 L351.59 1063.77 L353.02 1063.4 L354.44 1063.03 L355.86 1062.66 L357.29 1062.29 L358.71 1061.92" fill="none" stroke="#c266ff" stroke-width="3.2" stroke-linecap="butt" stroke-linejoin="round"/>
<path d="M75.5 1370 L76.92 1356.88 L78.35 1345.02 L79.77 1334.25 L81.19 1324.42 L82.62 1315.4 L84.04 1307.11 L85.46 1299.44 L86.89 1292.33 L88.31 1285.71 L89.73 1279.54 L91.15 1273.76 L92.58 1268.34 L94 1263.24 L95.42 1258.43 L96.85 1253.89 L98.27 1249.59 L99.69 1245.52 L101.12 1241.65 L102.54 1237.96 L103.96 1234.46 L105.39 1231.11 L106.81 1227.91 L108.23 1224.86 L109.66 1221.93 L111.08 1219.12 L112.5 1216.43 L113.93 1213.85 L115.35 1211.36 L116.77 1208.98 L118.2 1206.67 L119.62 1204.46 L121.04 1202.32 L122.46 1200.26 L123.89 1198.27 L125.31 1196.34 L126.73 1194.48 L128.16 1192.68 L129.58 1190.94 L131 1189.26 L132.43 1187.62 L133.85 1186.04 L135.27 1184.5 L136.7 1183.01 L138.12 1181.56 L139.54 1180.15 L140.97 1178.79 L142.39 1177.46 L143.81 1176.16 L145.24 1174.91 L146.66 1173.68 L148.08 1172.49 L149.5 1171.32 L150.93 1170.19 L152.35 1169.08 L153.77 1168 L155.2 1166.95 L156.62 1165.92 L158.04 1164.91 L159.47 1163.93 L160.89 1162.97 L162.31 1162.03 L163.74 1161.11 L165.16 1160.21 L166.58 1159.32 L168.01 1158.46 L169.43 1157.61 L170.85 1156.78 L172.28 1155.97 L173.7 1155.17 L175.12 1154.38 L176.54 1153.61 L177.97 1152.85 L179.39 1152.11 L180.81 1151.38 L182.24 1150.66 L183.66 1149.95 L185.08 1149.25 L186.51 1148.56 L187.93 1147.89 L189.35 1147.22 L190.78 1146.56 L192.2 1145.91 L193.62 1145.28 L195.05 1144.64 L196.47 1144.02 L197.89 1143.41 L199.32 1142.8 L200.74 1142.2 L202.16 1141.61 L203.59 1141.02 L205.01 1140.44 L206.43 1139.87 L207.85 1139.31 L209.28 1138.74 L210.7 1138.19 L212.12 1137.64 L213.55 1137.09 L214.97 1136.56 L216.39 1136.02 L217.82 1135.49 L219.24 1134.96 L220.66 1134.44 L222.09 1133.93 L223.51 1133.41 L224.93 1132.9 L226.36 1132.4 L227.78 1131.9 L229.2 1131.4 L230.63 1130.91 L232.05 1130.41 L233.47 1129.93 L234.89 1129.44 L236.32 1128.96 L237.74 1128.48 L239.16 1128 L240.59 1127.53 L242.01 1127.06 L243.43 1126.59 L244.86 1126.12 L246.28 1125.65 L247.7 1125.19 L249.13 1124.73 L250.55 1124.27 L251.97 1123.82 L253.4 1123.36 L254.82 1122.91 L256.24 1122.46 L257.67 1122.01 L259.09 1121.56 L260.51 1121.12 L261.93 1120.67 L263.36 1120.23 L264.78 1119.79 L266.2 1119.35 L267.63 1118.91 L269.05 1118.48 L270.47 1118.04 L271.9 1117.61 L273.32 1117.17 L274.74 1116.74 L276.17 1116.31 L277.59 1115.88 L279.01 1115.45 L280.44 1115.02 L281.86 1114.6 L283.28 1114.17 L284.71 1113.74 L286.13 1113.32 L287.55 1112.9 L288.98 1112.47 L290.4 1112.05 L291.82 1111.63 L293.24 1111.21 L294.67 1110.79 L296.09 1110.37 L297.51 1109.96 L298.94 1109.54 L300.36 1109.12 L301.78 1108.71 L303.21 1108.29 L304.63 1107.88 L306.05 1107.46 L307.48 1107.05 L308.9 1106.63 L310.32 1106.22 L311.75 1105.81 L313.17 1105.4 L314.59 1104.99 L316.02 1104.58 L317.44 1104.17 L318.86 1103.76 L320.28 1103.35 L321.71 1102.94 L323.13 1102.53 L324.55 1102.12 L325.98 1101.71 L327.4 1101.3 L328.82 1100.9 L330.25 1100.49 L331.67 1100.08 L333.09 1099.68 L334.52 1099.27 L335.94 1098.87 L337.36 1098.46 L338.79 1098.06 L340.21 1097.65 L341.63 1097.25 L343.06 1096.84 L344.48 1096.44 L345.9 1096.04 L347.32 1095.63 L348.75 1095.23 L350.17 1094.83 L351.59 1094.42 L353.02 1094.02 L354.44 1093.62 L355.86 1093.22 L357.29 1092.82 L358.71 1092.41" fill="none" stroke="#c266ff" stroke-width="3.2" stroke-linecap="butt" stroke-linejoin="round"/>
<path d="M75.5 1370 L76.92 1359.75 L78.35 1350.26 L79.77 1341.44 L81.19 1333.25 L82.62 1325.64 L84.04 1318.55 L85.46 1311.93 L86.89 1305.76 L88.31 1299.99 L89.73 1294.6 L91.15 1289.54 L92.58 1284.8 L94 1280.35 L95.42 1276.17 L96.85 1272.23 L98.27 1268.52 L99.69 1265.02 L101.12 1261.71 L102.54 1258.58 L103.96 1255.62 L105.39 1252.81 L106.81 1250.14 L108.23 1247.61 L109.66 1245.2 L111.08 1242.9 L112.5 1240.71 L113.93 1238.62 L115.35 1236.62 L116.77 1234.7 L118.2 1232.86 L119.62 1231.1 L121.04 1229.41 L122.46 1227.78 L123.89 1226.22 L125.31 1224.71 L126.73 1223.25 L128.16 1221.84 L129.58 1220.48 L131 1219.17 L132.43 1217.89 L133.85 1216.65 L135.27 1215.45 L136.7 1214.29 L138.12 1213.15 L139.54 1212.05 L140.97 1210.97 L142.39 1209.92 L143.81 1208.9 L145.24 1207.9 L146.66 1206.92 L148.08 1205.96 L149.5 1205.03 L150.93 1204.11 L152.35 1203.21 L153.77 1202.33 L155.2 1201.46 L156.62 1200.61 L158.04 1199.78 L159.47 1198.96 L160.89 1198.15 L162.31 1197.36 L163.74 1196.57 L165.16 1195.8 L166.58 1195.04 L168.01 1194.29 L169.43 1193.56 L170.85 1192.83 L172.28 1192.11 L173.7 1191.39 L175.12 1190.69 L176.54 1190 L177.97 1189.31 L179.39 1188.63 L180.81 1187.96 L182.24 1187.29 L183.66 1186.63 L185.08 1185.98 L186.51 1185.34 L187.93 1184.69 L189.35 1184.06 L190.78 1183.43 L192.2 1182.81 L193.62 1182.19 L195.05 1181.58 L196.47 1180.97 L197.89 1180.36 L199.32 1179.77 L200.74 1179.17 L202.16 1178.58 L203.59 1177.99 L205.01 1177.41 L206.43 1176.83 L207.85 1176.26 L209.28 1175.69 L210.7 1175.12 L212.12 1174.55 L213.55 1173.99 L214.97 1173.43 L216.39 1172.88 L217.82 1172.33 L219.24 1171.78 L220.66 1171.23 L222.09 1170.69 L223.51 1170.15 L224.93 1169.61 L226.36 1169.08 L227.78 1168.55 L229.2 1168.02 L230.63 1167.49 L232.05 1166.97 L233.47 1166.44 L234.89 1165.92 L236.32 1165.41 L237.74 1164.89 L239.16 1164.38 L240.59 1163.86 L242.01 1163.35 L243.43 1162.85 L244.86 1162.34 L246.28 1161.84 L247.7 1161.33 L249.13 1160.83 L250.55 1160.34 L251.97 1159.84 L253.4 1159.34 L254.82 1158.85 L256.24 1158.36 L257.67 1157.87 L259.09 1157.38 L260.51 1156.89 L261.93 1156.4 L263.36 1155.92 L264.78 1155.44 L266.2 1154.95 L267.63 1154.47 L269.05 1153.99 L270.47 1153.52 L271.9 1153.04 L273.32 1152.56 L274.74 1152.09 L276.17 1151.62 L277.59 1151.15 L279.01 1150.67 L280.44 1150.21 L281.86 1149.74 L283.28 1149.27 L284.71 1148.8 L286.13 1148.34 L287.55 1147.87 L288.98 1147.41 L290.4 1146.95 L291.82 1146.49 L293.24 1146.03 L294.67 1145.57 L296.09 1145.11 L297.51 1144.65 L298.94 1144.19 L300.36 1143.74 L301.78 1143.28 L303.21 1142.83 L304.63 1142.37 L306.05 1141.92 L307.48 1141.47 L308.9 1141.02 L310.32 1140.56 L311.75 1140.11 L313.17 1139.67 L314.59 1139.22 L316.02 1138.77 L317.44 1138.32 L318.86 1137.87 L320.28 1137.43 L321.71 1136.98 L323.13 1136.54 L324.55 1136.09 L325.98 1135.65 L327.4 1135.21 L328.82 1134.77 L330.25 1134.32 L331.67 1133.88 L333.09 1133.44 L334.52 1133 L335.94 1132.56 L337.36 1132.12 L338.79 1131.68 L340.21 1131.25 L341.63 1130.81 L343.06 1130.37 L344.48 1129.93 L345.9 1129.5 L347.32 1129.06 L348.75 1128.63 L350.17 1128.19 L351.59 1127.76 L353.02 1127.32 L354.44 1126.89 L355.86 1126.46 L357.29 1126.02 L358.71 1125.59" fill="none" stroke="#c266ff" stroke-width="3.2" stroke-linecap="butt" stroke-linejoin="round"/>
<path d="M75.5 1370 L76.92 1361.69 L78.35 1353.91 L79.77 1346.64 L81.19 1339.83 L82.62 1333.46 L84.04 1327.49 L85.46 1321.9 L86.89 1316.67 L88.31 1311.75 L89.73 1307.15 L91.15 1302.82 L92.58 1298.77 L94 1294.95 L95.42 1291.37 L96.85 1288 L98.27 1284.83 L99.69 1281.84 L101.12 1279.03 L102.54 1276.38 L103.96 1273.87 L105.39 1271.51 L106.81 1269.27 L108.23 1267.16 L109.66 1265.16 L111.08 1263.26 L112.5 1261.47 L113.93 1259.76 L115.35 1258.14 L116.77 1256.59 L118.2 1255.12 L119.62 1253.72 L121.04 1252.39 L122.46 1251.11 L123.89 1249.89 L125.31 1248.72 L126.73 1247.6 L128.16 1246.52 L129.58 1245.49 L131 1244.49 L132.43 1243.53 L133.85 1242.61 L135.27 1241.71 L136.7 1240.85 L138.12 1240.01 L139.54 1239.2 L140.97 1238.41 L142.39 1237.65 L143.81 1236.9 L145.24 1236.18 L146.66 1235.47 L148.08 1234.78 L149.5 1234.11 L150.93 1233.45 L152.35 1232.8 L153.77 1232.17 L155.2 1231.55 L156.62 1230.94 L158.04 1230.34 L159.47 1229.75 L160.89 1229.17 L162.31 1228.6 L163.74 1228.03 L165.16 1227.47 L166.58 1226.92 L168.01 1226.38 L169.43 1225.84 L170.85 1225.31 L172.28 1224.78 L173.7 1224.26 L175.12 1223.74 L176.54 1223.23 L177.97 1222.72 L179.39 1222.22 L180.81 1221.71 L182.24 1221.22 L183.66 1220.72 L185.08 1220.23 L186.51 1219.74 L187.93 1219.25 L189.35 1218.76 L190.78 1218.28 L192.2 1217.8 L193.62 1217.32 L195.05 1216.84 L196.47 1216.37 L197.89 1215.89 L199.32 1215.42 L200.74 1214.95 L202.16 1214.48 L203.59 1214.01 L205.01 1213.54 L206.43 1213.08 L207.85 1212.61 L209.28 1212.15 L210.7 1211.68 L212.12 1211.22 L213.55 1210.76 L214.97 1210.3 L216.39 1209.84 L217.82 1209.38 L219.24 1208.92 L220.66 1208.46 L222.09 1208 L223.51 1207.54 L224.93 1207.09 L226.36 1206.63 L227.78 1206.17 L229.2 1205.72 L230.63 1205.26 L232.05 1204.81 L233.47 1204.35 L234.89 1203.9 L236.32 1203.44 L237.74 1202.99 L239.16 1202.54 L240.59 1202.08 L242.01 1201.63 L243.43 1201.18 L244.86 1200.73 L246.28 1200.27 L247.7 1199.82 L249.13 1199.37 L250.55 1198.92 L251.97 1198.47 L253.4 1198.02 L254.82 1197.57 L256.24 1197.11 L257.67 1196.66 L259.09 1196.21 L260.51 1195.76 L261.93 1195.31 L263.36 1194.86 L264.78 1194.41 L266.2 1193.96 L267.63 1193.51 L269.05 1193.06 L270.47 1192.61 L271.9 1192.16 L273.32 1191.72 L274.74 1191.27 L276.17 1190.82 L277.59 1190.37 L279.01 1189.92 L280.44 1189.47 L281.86 1189.02 L283.28 1188.57 L284.71 1188.12 L286.13 1187.68 L287.55 1187.23 L288.98 1186.78 L290.4 1186.33 L291.82 1185.88 L293.24 1185.43 L294.67 1184.99 L296.09 1184.54 L297.51 1184.09 L298.94 1183.64 L300.36 1183.19 L301.78 1182.75 L303.21 1182.3 L304.63 1181.85 L306.05 1181.4 L307.48 1180.95 L308.9 1180.51 L310.32 1180.06 L311.75 1179.61 L313.17 1179.16 L314.59 1178.72 L316.02 1178.27 L317.44 1177.82 L318.86 1177.38 L320.28 1176.93 L321.71 1176.48 L323.13 1176.03 L324.55 1175.59 L325.98 1175.14 L327.4 1174.69 L328.82 1174.25 L330.25 1173.8 L331.67 1173.35 L333.09 1172.9 L334.52 1172.46 L335.94 1172.01 L337.36 1171.56 L338.79 1171.12 L340.21 1170.67 L341.63 1170.22 L343.06 1169.78 L344.48 1169.33 L345.9 1168.89 L347.32 1168.44 L348.75 1167.99 L350.17 1167.55 L351.59 1167.1 L353.02 1166.65 L354.44 1166.21 L355.86 1165.76 L357.29 1165.31 L358.71 1164.87" fill="none" stroke="#c266ff" stroke-width="3.2" stroke-linecap="butt" stroke-linejoin="round"/>
<path d="M75.5 1370 L76.92 1362.6 L78.35 1355.67 L79.77 1349.19 L81.19 1343.13 L82.62 1337.45 L84.04 1332.14 L85.46 1327.16 L86.89 1322.49 L88.31 1318.12 L89.73 1314.01 L91.15 1310.16 L92.58 1306.54 L94 1303.15 L95.42 1299.95 L96.85 1296.95 L98.27 1294.12 L99.69 1291.46 L101.12 1288.95 L102.54 1286.58 L103.96 1284.35 L105.39 1282.24 L106.81 1280.24 L108.23 1278.35 L109.66 1276.57 L111.08 1274.87 L112.5 1273.27 L113.93 1271.74 L115.35 1270.29 L116.77 1268.91 L118.2 1267.59 L119.62 1266.34 L121.04 1265.14 L122.46 1264 L123.89 1262.9 L125.31 1261.85 L126.73 1260.84 L128.16 1259.88 L129.58 1258.95 L131 1258.05 L132.43 1257.19 L133.85 1256.36 L135.27 1255.55 L136.7 1254.77 L138.12 1254.02 L139.54 1253.29 L140.97 1252.58 L142.39 1251.89 L143.81 1251.21 L145.24 1250.56 L146.66 1249.92 L148.08 1249.3 L149.5 1248.68 L150.93 1248.09 L152.35 1247.5 L153.77 1246.93 L155.2 1246.36 L156.62 1245.81 L158.04 1245.26 L159.47 1244.73 L160.89 1244.2 L162.31 1243.68 L163.74 1243.16 L165.16 1242.66 L166.58 1242.15 L168.01 1241.66 L169.43 1241.17 L170.85 1240.68 L172.28 1240.2 L173.7 1239.72 L175.12 1239.25 L176.54 1238.78 L177.97 1238.31 L179.39 1237.85 L180.81 1237.39 L182.24 1236.93 L183.66 1236.48 L185.08 1236.03 L186.51 1235.58 L187.93 1235.13 L189.35 1234.68 L190.78 1234.24 L192.2 1233.8 L193.62 1233.36 L195.05 1232.92 L196.47 1232.48 L197.89 1232.04 L199.32 1231.61 L200.74 1231.18 L202.16 1230.74 L203.59 1230.31 L205.01 1229.88 L206.43 1229.45 L207.85 1229.02 L209.28 1228.59 L210.7 1228.17 L212.12 1227.74 L213.55 1227.31 L214.97 1226.89 L216.39 1226.46 L217.82 1226.04 L219.24 1225.62 L220.66 1225.19 L222.09 1224.77 L223.51 1224.35 L224.93 1223.92 L226.36 1223.5 L227.78 1223.08 L229.2 1222.66 L230.63 1222.24 L232.05 1221.82 L233.47 1221.4 L234.89 1220.98 L236.32 1220.56 L237.74 1220.14 L239.16 1219.72 L240.59 1219.3 L242.01 1218.88 L243.43 1218.46 L244.86 1218.04 L246.28 1217.62 L247.7 1217.2 L249.13 1216.79 L250.55 1216.37 L251.97 1215.95 L253.4 1215.53 L254.82 1215.11 L256.24 1214.7 L257.67 1214.28 L259.09 1213.86 L260.51 1213.44 L261.93 1213.03 L263.36 1212.61 L264.78 1212.19 L266.2 1211.77 L267.63 1211.36 L269.05 1210.94 L270.47 1210.52 L271.9 1210.1 L273.32 1209.69 L274.74 1209.27 L276.17 1208.85 L277.59 1208.44 L279.01 1208.02 L280.44 1207.6 L281.86 1207.19 L283.28 1206.77 L284.71 1206.35 L286.13 1205.94 L287.55 1205.52 L288.98 1205.1 L290.4 1204.69 L291.82 1204.27 L293.24 1203.85 L294.67 1203.44 L296.09 1203.02 L297.51 1202.6 L298.94 1202.19 L300.36 1201.77 L301.78 1201.35 L303.21 1200.94 L304.63 1200.52 L306.05 1200.1 L307.48 1199.69 L308.9 1199.27 L310.32 1198.85 L311.75 1198.44 L313.17 1198.02 L314.59 1197.6 L316.02 1197.19 L317.44 1196.77 L318.86 1196.35 L320.28 1195.94 L321.71 1195.52 L323.13 1195.11 L324.55 1194.69 L325.98 1194.27 L327.4 1193.86 L328.82 1193.44 L330.25 1193.02 L331.67 1192.61 L333.09 1192.19 L334.52 1191.77 L335.94 1191.36 L337.36 1190.94 L338.79 1190.53 L340.21 1190.11 L341.63 1189.69 L343.06 1189.28 L344.48 1188.86 L345.9 1188.44 L347.32 1188.03 L348.75 1187.61 L350.17 1187.19 L351.59 1186.78 L353.02 1186.36 L354.44 1185.95 L355.86 1185.53 L357.29 1185.11 L358.71 1184.7" fill="none" stroke="#c266ff" stroke-width="3.2" stroke-linecap="butt" stroke-linejoin="round"/>
<path d="M75.5 1370 L76.92 1364.73 L78.35 1359.78 L79.77 1355.15 L81.19 1350.81 L82.62 1346.74 L84.04 1342.92 L85.46 1339.34 L86.89 1335.97 L88.31 1332.8 L89.73 1329.82 L91.15 1327.02 L92.58 1324.39 L94 1321.9 L95.42 1319.56 L96.85 1317.35 L98.27 1315.27 L99.69 1313.3 L101.12 1311.43 L102.54 1309.67 L103.96 1308 L105.39 1306.41 L106.81 1304.91 L108.23 1303.48 L109.66 1302.13 L111.08 1300.83 L112.5 1299.6 L113.93 1298.43 L115.35 1297.31 L116.77 1296.23 L118.2 1295.21 L119.62 1294.22 L121.04 1293.28 L122.46 1292.37 L123.89 1291.5 L125.31 1290.66 L126.73 1289.85 L128.16 1289.07 L129.58 1288.31 L131 1287.58 L132.43 1286.88 L133.85 1286.19 L135.27 1285.52 L136.7 1284.87 L138.12 1284.24 L139.54 1283.63 L140.97 1283.03 L142.39 1282.44 L143.81 1281.87 L145.24 1281.31 L146.66 1280.76 L148.08 1280.22 L149.5 1279.69 L150.93 1279.17 L152.35 1278.66 L153.77 1278.15 L155.2 1277.66 L156.62 1277.17 L158.04 1276.69 L159.47 1276.21 L160.89 1275.74 L162.31 1275.28 L163.74 1274.82 L165.16 1274.36 L166.58 1273.91 L168.01 1273.46 L169.43 1273.02 L170.85 1272.58 L172.28 1272.14 L173.7 1271.71 L175.12 1271.28 L176.54 1270.85 L177.97 1270.43 L179.39 1270 L180.81 1269.58 L182.24 1269.16 L183.66 1268.75 L185.08 1268.33 L186.51 1267.92 L187.93 1267.51 L189.35 1267.1 L190.78 1266.69 L192.2 1266.28 L193.62 1265.87 L195.05 1265.47 L196.47 1265.07 L197.89 1264.66 L199.32 1264.26 L200.74 1263.86 L202.16 1263.46 L203.59 1263.06 L205.01 1262.66 L206.43 1262.26 L207.85 1261.86 L209.28 1261.47 L210.7 1261.07 L212.12 1260.67 L213.55 1260.28 L214.97 1259.88 L216.39 1259.49 L217.82 1259.09 L219.24 1258.7 L220.66 1258.31 L222.09 1257.91 L223.51 1257.52 L224.93 1257.13 L226.36 1256.74 L227.78 1256.34 L229.2 1255.95 L230.63 1255.56 L232.05 1255.17 L233.47 1254.78 L234.89 1254.39 L236.32 1254 L237.74 1253.61 L239.16 1253.22 L240.59 1252.83 L242.01 1252.44 L243.43 1252.05 L244.86 1251.66 L246.28 1251.27 L247.7 1250.88 L249.13 1250.49 L250.55 1250.1 L251.97 1249.71 L253.4 1249.32 L254.82 1248.93 L256.24 1248.54 L257.67 1248.15 L259.09 1247.76 L260.51 1247.37 L261.93 1246.98 L263.36 1246.6 L264.78 1246.21 L266.2 1245.82 L267.63 1245.43 L269.05 1245.04 L270.47 1244.65 L271.9 1244.26 L273.32 1243.88 L274.74 1243.49 L276.17 1243.1 L277.59 1242.71 L279.01 1242.32 L280.44 1241.93 L281.86 1241.55 L283.28 1241.16 L284.71 1240.77 L286.13 1240.38 L287.55 1239.99 L288.98 1239.61 L290.4 1239.22 L291.82 1238.83 L293.24 1238.44 L294.67 1238.05 L296.09 1237.67 L297.51 1237.28 L298.94 1236.89 L300.36 1236.5 L301.78 1236.11 L303.21 1235.73 L304.63 1235.34 L306.05 1234.95 L307.48 1234.56 L308.9 1234.17 L310.32 1233.79 L311.75 1233.4 L313.17 1233.01 L314.59 1232.62 L316.02 1232.23 L317.44 1231.85 L318.86 1231.46 L320.28 1231.07 L321.71 1230.68 L323.13 1230.3 L324.55 1229.91 L325.98 1229.52 L327.4 1229.13 L328.82 1228.74 L330.25 1228.36 L331.67 1227.97 L333.09 1227.58 L334.52 1227.19 L335.94 1226.81 L337.36 1226.42 L338.79 1226.03 L340.21 1225.64 L341.63 1225.25 L343.06 1224.87 L344.48 1224.48 L345.9 1224.09 L347.32 1223.7 L348.75 1223.32 L350.17 1222.93 L351.59 1222.54 L353.02 1222.15 L354.44 1221.77 L355.86 1221.38 L357.29 1220.99 L358.71 1220.6" fill="none" stroke="#c266ff" stroke-width="3.2" stroke-linecap="butt" stroke-linejoin="round"/>
<path d="M358.71 965.455 L362.05 964.623 L365.36 963.783 L368.66 962.936 L371.95 962.086 L375.24 961.236 L378.54 960.39 L381.85 959.549 L385.18 958.718 L388.55 957.899 L391.95 957.095 L395.4 956.309 L398.9 955.545 L402.79 954.73 L406.75 953.929 L410.76 953.144 L414.81 952.373 L418.9 951.617 L423.02 950.875 L427.15 950.148 L431.29 949.435 L435.44 948.737 L439.58 948.053 L443.7 947.383 L447.8 946.727 L451.87 946.095 L455.94 945.486 L460.01 944.899 L464.09 944.33 L468.16 943.774 L472.24 943.23 L476.31 942.693 L480.39 942.16 L484.47 941.627 L488.55 941.092 L492.62 940.551 L496.7 940 L500.77 939.441 L504.85 938.879 L508.92 938.316 L513 937.751 L517.07 937.187 L521.15 936.625 L525.22 936.067 L529.3 935.512 L533.37 934.964 L537.45 934.422 L541.52 933.888 L545.6 933.364 L549.67 932.849 L553.75 932.341 L557.82 931.839 L561.89 931.344 L565.97 930.855 L570.04 930.37 L574.12 929.89 L578.19 929.415 L582.27 928.943 L586.35 928.474 L590.42 928.009 L594.5 927.545 L598.61 927.083 L602.78 926.622 L606.98 926.162 L611.21 925.704 L615.43 925.251 L619.64 924.802 L623.8 924.359 L627.91 923.923 L631.95 923.496 L635.89 923.077 L639.71 922.669 L643.4 922.273 L646.24 921.966 L648.99 921.669 L651.67 921.379 L654.29 921.096 L656.86 920.818 L659.39 920.544 L661.9 920.273 L664.39 920.003 L666.89 919.733 L669.4 919.461 L671.93 919.187 L674.5 918.909" transform="scale(1 1.1)" fill="none" stroke="#ff22e6" stroke-width="2.9" stroke-linecap="round" stroke-dasharray="0 4.72" stroke-linejoin="round"/>
<path d="M358.71 993.091 L362.06 992.291 L365.4 991.485 L368.75 990.675 L372.09 989.862 L375.44 989.049 L378.78 988.238 L382.13 987.432 L385.48 986.633 L388.83 985.842 L392.18 985.062 L395.54 984.296 L398.9 983.545 L402.27 982.811 L405.64 982.093 L409.02 981.387 L412.41 980.693 L415.79 980.008 L419.18 979.329 L422.56 978.655 L425.95 977.983 L429.34 977.311 L432.73 976.637 L436.12 975.958 L439.5 975.273" transform="scale(1 1.1)" fill="none" stroke="#ff22e6" stroke-width="2.9" stroke-linecap="round" stroke-dasharray="0 4.72" stroke-linejoin="round"/>
<path d="M358.71 1023.273 L362.05 1022.263 L365.36 1021.25 L368.66 1020.234 L371.95 1019.217 L375.24 1018.2 L378.54 1017.184 L381.85 1016.171 L385.19 1015.161 L388.55 1014.156 L391.96 1013.157 L395.4 1012.165 L398.9 1011.182 L402.8 1010.116 L406.76 1009.063 L410.77 1008.02 L414.82 1006.985 L418.92 1005.956 L423.04 1004.93 L427.17 1003.906 L431.32 1002.881 L435.46 1001.852 L439.59 1000.819 L443.71 999.778 L447.8 998.727 L451.88 997.661 L455.95 996.581 L460.02 995.489 L464.1 994.391 L468.17 993.29 L472.24 992.19 L476.31 991.094 L480.38 990.007 L484.46 988.932 L488.54 987.873 L492.62 986.834 L496.7 985.818 L500.77 984.827 L504.83 983.849 L508.9 982.883 L512.97 981.929 L517.05 980.987 L521.12 980.058 L525.2 979.14 L529.28 978.234 L533.35 977.34 L537.44 976.458 L541.52 975.587 L545.6 974.727 L549.67 973.886 L553.75 973.062 L557.84 972.252 L561.93 971.456 L566.02 970.672 L570.11 969.897 L574.2 969.131 L578.28 968.371 L582.35 967.616 L586.42 966.865 L590.47 966.114 L594.5 965.364 L598.41 964.636 L602.31 963.916 L606.2 963.204 L610.08 962.497 L613.95 961.794 L617.82 961.095 L621.68 960.398 L625.54 959.703 L629.4 959.007 L633.26 958.311 L637.13 957.612 L641 956.909" transform="scale(1 1.1)" fill="none" stroke="#ff22e6" stroke-width="2.9" stroke-linecap="round" stroke-dasharray="0 4.72" stroke-linejoin="round"/>
<path d="M358.71 1058.909 L362.05 1057.894 L365.36 1056.879 L368.66 1055.863 L371.95 1054.848 L375.25 1053.833 L378.55 1052.818 L381.86 1051.802 L385.2 1050.787 L388.56 1049.772 L391.96 1048.757 L395.41 1047.742 L398.9 1046.727 L402.8 1045.613 L406.76 1044.499 L410.77 1043.386 L414.83 1042.272 L418.92 1041.158 L423.04 1040.045 L427.17 1038.931 L431.31 1037.818 L435.46 1036.704 L439.59 1035.591 L443.71 1034.477 L447.8 1033.364 L451.87 1032.25 L455.95 1031.135 L460.02 1030.021 L464.1 1028.906 L468.17 1027.791 L472.25 1026.676 L476.32 1025.562 L480.4 1024.448 L484.47 1023.335 L488.55 1022.222 L492.62 1021.111 L496.7 1020 L500.77 1018.884 L504.85 1017.759 L508.92 1016.628 L512.99 1015.494 L517.06 1014.361 L521.13 1013.231 L525.2 1012.109 L529.28 1010.998 L533.35 1009.901 L537.43 1008.821 L541.51 1007.762 L545.6 1006.727 L549.7 1005.705 L553.87 1004.676 L558.09 1003.645 L562.32 1002.621 L566.56 1001.611 L570.78 1000.622 L574.96 999.662 L579.08 998.737 L583.11 997.856 L587.04 997.026 L590.85 996.253 L594.5 995.545 L597.21 995.045 L599.87 994.578 L602.46 994.14 L605.01 993.73 L607.5 993.345 L609.95 992.984 L612.35 992.644 L614.72 992.323 L617.06 992.018 L619.36 991.728 L621.64 991.45 L623.9 991.182 L625.77 990.971 L627.6 990.781 L629.39 990.608 L631.15 990.45 L632.89 990.304 L634.61 990.167 L636.32 990.035 L638.03 989.907 L639.73 989.778 L641.44 989.647 L643.16 989.51 L644.9 989.364" transform="scale(1 1.1)" fill="none" stroke="#ff22e6" stroke-width="2.9" stroke-linecap="round" stroke-dasharray="0 4.72" stroke-linejoin="round"/>
<path d="M358.71 1077 L362.05 1075.771 L365.36 1074.54 L368.66 1073.307 L371.95 1072.073 L375.24 1070.839 L378.53 1069.606 L381.85 1068.375 L385.18 1067.146 L388.55 1065.92 L391.95 1064.699 L395.4 1063.483 L398.9 1062.273 L402.79 1060.95 L406.75 1059.624 L410.75 1058.296 L414.8 1056.97 L418.89 1055.648 L423 1054.333 L427.14 1053.027 L431.28 1051.733 L435.43 1050.453 L439.57 1049.19 L443.7 1047.948 L447.8 1046.727 L451.86 1045.534 L455.93 1044.355 L459.99 1043.19 L464.06 1042.038 L468.13 1040.901 L472.21 1039.779 L476.28 1038.671 L480.36 1037.578 L484.44 1036.501 L488.53 1035.439 L492.61 1034.393 L496.7 1033.364 L500.8 1032.348 L504.97 1031.335 L509.19 1030.328 L513.43 1029.332 L517.67 1028.351 L521.89 1027.39 L526.07 1026.452 L530.19 1025.543 L534.22 1024.666 L538.15 1023.826 L541.95 1023.026 L545.6 1022.273 L548.31 1021.715 L550.95 1021.169 L553.52 1020.637 L556.03 1020.121 L558.49 1019.625 L560.9 1019.151 L563.29 1018.701 L565.65 1018.278 L567.99 1017.885 L570.32 1017.524 L572.66 1017.198 L575 1016.909 L577.11 1016.689 L579.2 1016.51 L581.26 1016.369 L583.31 1016.257 L585.35 1016.17 L587.37 1016.1 L589.39 1016.043 L591.41 1015.992 L593.42 1015.941 L595.44 1015.884 L597.46 1015.815 L599.5 1015.727" transform="scale(1 1.1)" fill="none" stroke="#ff22e6" stroke-width="2.9" stroke-linecap="round" stroke-dasharray="0 4.72" stroke-linejoin="round"/>
<path d="M358.71 1109.455 L362.05 1108.298 L365.36 1107.134 L368.65 1105.965 L371.94 1104.793 L375.23 1103.621 L378.53 1102.452 L381.84 1101.288 L385.17 1100.132 L388.54 1098.986 L391.94 1097.853 L395.39 1096.736 L398.9 1095.636 L402.79 1094.454 L406.74 1093.281 L410.74 1092.119 L414.79 1090.969 L418.88 1089.831 L423 1088.706 L427.13 1087.595 L431.28 1086.498 L435.43 1085.417 L439.57 1084.352 L443.7 1083.303 L447.8 1082.273 L451.94 1081.254 L456.21 1080.231 L460.56 1079.211 L464.96 1078.2 L469.36 1077.204 L473.72 1076.229 L477.99 1075.282 L482.15 1074.369 L486.14 1073.496 L489.92 1072.67 L493.46 1071.896 L496.7 1071.182 L498.52 1070.781 L500.22 1070.407 L501.84 1070.054 L503.38 1069.72 L504.86 1069.401 L506.3 1069.094 L507.7 1068.793 L509.09 1068.497 L510.48 1068.2 L511.88 1067.899 L513.32 1067.592 L514.8 1067.273" transform="scale(1 1.1)" fill="none" stroke="#ff22e6" stroke-width="2.9" stroke-linecap="round" stroke-dasharray="0 4.72" stroke-linejoin="round"/>
<line x1="359.01" y1="988.5" x2="359.01" y2="1370" stroke="#000" stroke-width="2.5" stroke-linecap="round" stroke-dasharray="19 11.2" stroke-dashoffset="0"/>
<polygon points="101.09,1196.19 109.71,1192.41 157.08,1300.49 162.71,1298.02 156.9,1311.8 142.83,1306.74 148.46,1304.27" fill="#c266ff" stroke="#000" stroke-width="1.9" stroke-linejoin="miter"/>
<text x="175.8" y="1311.1" font-size="19" fill="#000" font-weight="bold">a<tspan font-size="13.3" dy="4.56">0</tspan><tspan dy="-4.56">/W</tspan></text>
<text x="375" y="1038.9" font-size="17.5" fill="#a6a6a6" font-weight="bold">a<tspan font-size="12.25" dy="4.2">0</tspan><tspan dy="-4.2">/W</tspan></text>
<text x="434" y="1034" class="v">0,28</text>
<text x="434" y="1064.6" class="v">0,38</text>
<text x="433.3" y="1093" class="v">0,50</text>
<text x="433.3" y="1129.4" class="v">0,60</text>
<text x="433.3" y="1153.1" class="v">0,68</text>
<text x="433.3" y="1189.8" class="v">0,74</text>
<text transform="translate(366.5 1155.5) rotate(-15.7)" font-size="11.5" font-weight="bold" fill="#c266ff">used as J</text>
<text transform="translate(665.8 1361.9) rotate(-90)" font-size="14.5" font-weight="bold" fill="#c266ff">mat.C</text>
</svg>
</body></html>
